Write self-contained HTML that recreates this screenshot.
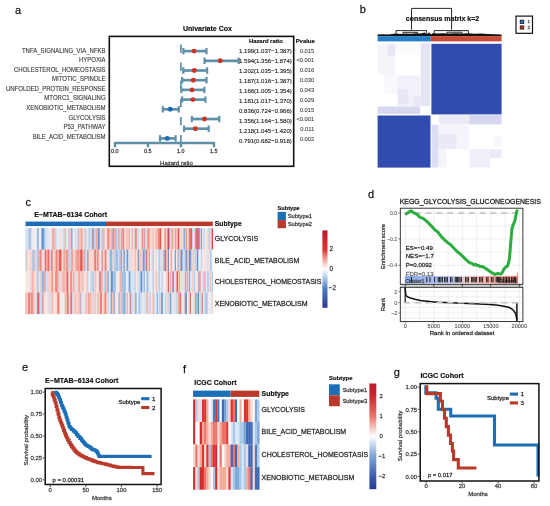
<!DOCTYPE html>
<html><head><meta charset="utf-8"><title>Figure</title>
<style>html,body{margin:0;padding:0;background:#fff}svg{display:block;font-family:"Liberation Sans", Arial, sans-serif;filter:blur(0.35px)}</style></head>
<body><svg width="550" height="506" viewBox="0 0 550 506">
<rect width="550" height="506" fill="#fff"/>
<text x="15" y="14.2" font-size="11" fill="#111" stroke="#111" stroke-width="0.28" stroke-opacity="0.75">a</text>
<text x="207.4" y="31.34" font-size="7.1" text-anchor="middle" font-weight="bold" textLength="49" lengthAdjust="spacingAndGlyphs" fill="#111" stroke="#111" stroke-width="0.22" stroke-opacity="0.75">Univariate Cox</text>
<rect x="109.3" y="36.4" width="184.4" height="129.9" fill="none" stroke="#111" stroke-width="1.6"/>
<g stroke="#5f90a8" stroke-width="1.7">
<line x1="180.9" x2="180.9" y1="135.0" y2="143.4"/>
<line x1="180.9" x2="180.9" y1="116.9" y2="125.3"/>
<line x1="180.9" x2="180.9" y1="98.8" y2="107.2"/>
<line x1="180.9" x2="180.9" y1="80.7" y2="89.1"/>
<line x1="180.9" x2="180.9" y1="62.6" y2="71.0"/>
<line x1="180.9" x2="180.9" y1="44.5" y2="52.9"/>
</g>
<g stroke="#5f90a8" stroke-width="2.4" fill="none">
<line x1="114.2" x2="215" y1="143" y2="143"/>
<line x1="115" x2="115" y1="142.2" y2="147.3"/>
<line x1="148.0" x2="148.0" y1="142.2" y2="147.3"/>
<line x1="181.0" x2="181.0" y1="142.2" y2="147.3"/>
<line x1="214.0" x2="214.0" y1="142.2" y2="147.3"/>
</g>
<text x="114.7" y="152.83" font-size="5.4" text-anchor="middle" fill="#333" stroke="#333" stroke-width="0.28" stroke-opacity="0.75">0.0</text>
<text x="147.7" y="152.83" font-size="5.4" text-anchor="middle" fill="#333" stroke="#333" stroke-width="0.28" stroke-opacity="0.75">0.5</text>
<text x="180.7" y="152.83" font-size="5.4" text-anchor="middle" fill="#333" stroke="#333" stroke-width="0.28" stroke-opacity="0.75">1.0</text>
<text x="213.7" y="152.83" font-size="5.4" text-anchor="middle" fill="#333" stroke="#333" stroke-width="0.28" stroke-opacity="0.75">1.5</text>
<text x="176.4" y="164.75" font-size="6.0" text-anchor="middle" textLength="32.7" lengthAdjust="spacingAndGlyphs" fill="#333" stroke="#333" stroke-width="0.28" stroke-opacity="0.75">Hazard ratio</text>
<text x="265.9" y="43.35" font-size="6.0" text-anchor="middle" font-weight="bold" textLength="33.9" lengthAdjust="spacingAndGlyphs" fill="#111" stroke="#111" stroke-width="0.22" stroke-opacity="0.75">Hazard ratio</text>
<text x="305.2" y="43.35" font-size="6.0" text-anchor="middle" font-weight="bold" textLength="19.1" lengthAdjust="spacingAndGlyphs" fill="#111" stroke="#111" stroke-width="0.22" stroke-opacity="0.75">Pvalue</text>
<text x="105.6" y="52.53" font-size="6.5" text-anchor="end" textLength="83.69" lengthAdjust="spacingAndGlyphs" fill="#3a3a3a" stroke="#3a3a3a" stroke-width="0.15" stroke-opacity="0.75">TNFA_SIGNALING_VIA_NFKB</text>
<g stroke="#5f90a8" fill="none"><line x1="183.4" x2="206.5" y1="51.1" y2="51.1" stroke-width="2.7"/><line x1="183.4" x2="183.4" y1="47.9" y2="54.3" stroke-width="2.2"/><line x1="206.5" x2="206.5" y1="47.9" y2="54.3" stroke-width="2.2"/></g>
<circle cx="194.1" cy="51.1" r="2.45" fill="#cb3423"/>
<text x="291.8" y="52.78" font-size="6.1" text-anchor="end" textLength="52.8" lengthAdjust="spacingAndGlyphs" fill="#222" stroke="#222" stroke-width="0.15" stroke-opacity="0.75">1.199(1.037−1.387)</text>
<text x="314.3" y="52.68" font-size="5.8" text-anchor="end" fill="#444" stroke="#444" stroke-width="0.12" stroke-opacity="0.75">0.015</text>
<text x="105.6" y="62.1" font-size="6.5" text-anchor="end" textLength="26.68" lengthAdjust="spacingAndGlyphs" fill="#3a3a3a" stroke="#3a3a3a" stroke-width="0.15" stroke-opacity="0.75">HYPOXIA</text>
<g stroke="#5f90a8" fill="none"><line x1="204.5" x2="238.7" y1="60.8" y2="60.8" stroke-width="2.7"/><line x1="204.5" x2="204.5" y1="57.6" y2="64.0" stroke-width="2.2"/><line x1="238.7" x2="238.7" y1="57.6" y2="64.0" stroke-width="2.2"/></g>
<circle cx="220.2" cy="60.8" r="2.45" fill="#cb3423"/>
<text x="291.8" y="62.78" font-size="6.1" text-anchor="end" textLength="52.8" lengthAdjust="spacingAndGlyphs" fill="#222" stroke="#222" stroke-width="0.15" stroke-opacity="0.75">1.594(1.356−1.874)</text>
<text x="314.3" y="62.49" font-size="5.8" text-anchor="end" fill="#444" stroke="#444" stroke-width="0.12" stroke-opacity="0.75">&lt;0.001</text>
<text x="105.6" y="71.67" font-size="6.5" text-anchor="end" textLength="91.58" lengthAdjust="spacingAndGlyphs" fill="#3a3a3a" stroke="#3a3a3a" stroke-width="0.15" stroke-opacity="0.75">CHOLESTEROL_HOMEOSTASIS</text>
<g stroke="#5f90a8" fill="none"><line x1="183.3" x2="207.1" y1="70.5" y2="70.5" stroke-width="2.7"/><line x1="183.3" x2="183.3" y1="67.3" y2="73.7" stroke-width="2.2"/><line x1="207.1" x2="207.1" y1="67.3" y2="73.7" stroke-width="2.2"/></g>
<circle cx="194.3" cy="70.5" r="2.45" fill="#cb3423"/>
<text x="291.8" y="72.78" font-size="6.1" text-anchor="end" textLength="52.8" lengthAdjust="spacingAndGlyphs" fill="#222" stroke="#222" stroke-width="0.15" stroke-opacity="0.75">1.202(1.035−1.395)</text>
<text x="314.3" y="72.3" font-size="5.8" text-anchor="end" fill="#444" stroke="#444" stroke-width="0.12" stroke-opacity="0.75">0.016</text>
<text x="105.6" y="81.24" font-size="6.5" text-anchor="end" textLength="53.57" lengthAdjust="spacingAndGlyphs" fill="#3a3a3a" stroke="#3a3a3a" stroke-width="0.15" stroke-opacity="0.75">MITOTIC_SPINDLE</text>
<g stroke="#5f90a8" fill="none"><line x1="182.1" x2="206.5" y1="80.2" y2="80.2" stroke-width="2.7"/><line x1="182.1" x2="182.1" y1="77.0" y2="83.4" stroke-width="2.2"/><line x1="206.5" x2="206.5" y1="77.0" y2="83.4" stroke-width="2.2"/></g>
<circle cx="193.3" cy="80.2" r="2.45" fill="#cb3423"/>
<text x="291.8" y="82.78" font-size="6.1" text-anchor="end" textLength="52.8" lengthAdjust="spacingAndGlyphs" fill="#222" stroke="#222" stroke-width="0.15" stroke-opacity="0.75">1.187(1.016−1.387)</text>
<text x="314.3" y="82.11" font-size="5.8" text-anchor="end" fill="#444" stroke="#444" stroke-width="0.12" stroke-opacity="0.75">0.030</text>
<text x="105.6" y="90.81" font-size="6.5" text-anchor="end" textLength="99.69" lengthAdjust="spacingAndGlyphs" fill="#3a3a3a" stroke="#3a3a3a" stroke-width="0.15" stroke-opacity="0.75">UNFOLDED_PROTEIN_RESPONSE</text>
<g stroke="#5f90a8" fill="none"><line x1="181.3" x2="204.4" y1="89.9" y2="89.9" stroke-width="2.7"/><line x1="181.3" x2="181.3" y1="86.7" y2="93.1" stroke-width="2.2"/><line x1="204.4" x2="204.4" y1="86.7" y2="93.1" stroke-width="2.2"/></g>
<circle cx="192.0" cy="89.9" r="2.45" fill="#cb3423"/>
<text x="291.8" y="92.78" font-size="6.1" text-anchor="end" textLength="52.8" lengthAdjust="spacingAndGlyphs" fill="#222" stroke="#222" stroke-width="0.15" stroke-opacity="0.75">1.166(1.005−1.354)</text>
<text x="314.3" y="91.92" font-size="5.8" text-anchor="end" fill="#444" stroke="#444" stroke-width="0.12" stroke-opacity="0.75">0.043</text>
<text x="105.6" y="100.38" font-size="6.5" text-anchor="end" textLength="61.24" lengthAdjust="spacingAndGlyphs" fill="#3a3a3a" stroke="#3a3a3a" stroke-width="0.15" stroke-opacity="0.75">MTORC1_SIGNALING</text>
<g stroke="#5f90a8" fill="none"><line x1="182.1" x2="205.4" y1="99.6" y2="99.6" stroke-width="2.7"/><line x1="182.1" x2="182.1" y1="96.4" y2="102.8" stroke-width="2.2"/><line x1="205.4" x2="205.4" y1="96.4" y2="102.8" stroke-width="2.2"/></g>
<circle cx="192.9" cy="99.6" r="2.45" fill="#cb3423"/>
<text x="291.8" y="102.78" font-size="6.1" text-anchor="end" textLength="52.8" lengthAdjust="spacingAndGlyphs" fill="#222" stroke="#222" stroke-width="0.15" stroke-opacity="0.75">1.181(1.017−1.370)</text>
<text x="314.3" y="101.73" font-size="5.8" text-anchor="end" fill="#444" stroke="#444" stroke-width="0.12" stroke-opacity="0.75">0.029</text>
<text x="105.6" y="109.95" font-size="6.5" text-anchor="end" textLength="79.24" lengthAdjust="spacingAndGlyphs" fill="#3a3a3a" stroke="#3a3a3a" stroke-width="0.15" stroke-opacity="0.75">XENOBIOTIC_METABOLISM</text>
<g stroke="#5f90a8" fill="none"><line x1="162.8" x2="178.8" y1="109.3" y2="109.3" stroke-width="2.7"/><line x1="162.8" x2="162.8" y1="106.1" y2="112.5" stroke-width="2.2"/><line x1="178.8" x2="178.8" y1="106.1" y2="112.5" stroke-width="2.2"/></g>
<circle cx="170.2" cy="109.3" r="2.45" fill="#1a6db8"/>
<text x="291.8" y="112.78" font-size="6.1" text-anchor="end" textLength="52.8" lengthAdjust="spacingAndGlyphs" fill="#222" stroke="#222" stroke-width="0.15" stroke-opacity="0.75">0.836(0.724−0.966)</text>
<text x="314.3" y="111.54" font-size="5.8" text-anchor="end" fill="#444" stroke="#444" stroke-width="0.12" stroke-opacity="0.75">0.015</text>
<text x="105.6" y="119.52" font-size="6.5" text-anchor="end" textLength="37.13" lengthAdjust="spacingAndGlyphs" fill="#3a3a3a" stroke="#3a3a3a" stroke-width="0.15" stroke-opacity="0.75">GLYCOLYSIS</text>
<g stroke="#5f90a8" fill="none"><line x1="191.8" x2="219.3" y1="119.0" y2="119.0" stroke-width="2.7"/><line x1="191.8" x2="191.8" y1="115.8" y2="122.2" stroke-width="2.2"/><line x1="219.3" x2="219.3" y1="115.8" y2="122.2" stroke-width="2.2"/></g>
<circle cx="204.5" cy="119.0" r="2.45" fill="#cb3423"/>
<text x="291.8" y="122.78" font-size="6.1" text-anchor="end" textLength="52.8" lengthAdjust="spacingAndGlyphs" fill="#222" stroke="#222" stroke-width="0.15" stroke-opacity="0.75">1.356(1.164−1.580)</text>
<text x="314.3" y="121.35" font-size="5.8" text-anchor="end" fill="#444" stroke="#444" stroke-width="0.12" stroke-opacity="0.75">&lt;0.001</text>
<text x="105.6" y="129.09" font-size="6.5" text-anchor="end" textLength="42.12" lengthAdjust="spacingAndGlyphs" fill="#3a3a3a" stroke="#3a3a3a" stroke-width="0.15" stroke-opacity="0.75">P53_PATHWAY</text>
<g stroke="#5f90a8" fill="none"><line x1="184.0" x2="208.7" y1="128.7" y2="128.7" stroke-width="2.7"/><line x1="184.0" x2="184.0" y1="125.5" y2="131.9" stroke-width="2.2"/><line x1="208.7" x2="208.7" y1="125.5" y2="131.9" stroke-width="2.2"/></g>
<circle cx="195.4" cy="128.7" r="2.45" fill="#cb3423"/>
<text x="291.8" y="132.78" font-size="6.1" text-anchor="end" textLength="52.8" lengthAdjust="spacingAndGlyphs" fill="#222" stroke="#222" stroke-width="0.15" stroke-opacity="0.75">1.218(1.045−1.420)</text>
<text x="314.3" y="131.16" font-size="5.8" text-anchor="end" fill="#444" stroke="#444" stroke-width="0.12" stroke-opacity="0.75">0.011</text>
<text x="105.6" y="138.66" font-size="6.5" text-anchor="end" textLength="72.91" lengthAdjust="spacingAndGlyphs" fill="#3a3a3a" stroke="#3a3a3a" stroke-width="0.15" stroke-opacity="0.75">BILE_ACID_METABOLISM</text>
<g stroke="#5f90a8" fill="none"><line x1="160.0" x2="175.6" y1="138.4" y2="138.4" stroke-width="2.7"/><line x1="160.0" x2="160.0" y1="135.2" y2="141.6" stroke-width="2.2"/><line x1="175.6" x2="175.6" y1="135.2" y2="141.6" stroke-width="2.2"/></g>
<circle cx="167.2" cy="138.4" r="2.45" fill="#1a6db8"/>
<text x="291.8" y="142.78" font-size="6.1" text-anchor="end" textLength="52.8" lengthAdjust="spacingAndGlyphs" fill="#222" stroke="#222" stroke-width="0.15" stroke-opacity="0.75">0.791(0.682−0.918)</text>
<text x="314.3" y="140.97" font-size="5.8" text-anchor="end" fill="#444" stroke="#444" stroke-width="0.12" stroke-opacity="0.75">0.002</text>
<text x="359.8" y="12.6" font-size="11" fill="#111" stroke="#111" stroke-width="0.28" stroke-opacity="0.75">b</text>
<g stroke="#111" stroke-width="0.9" fill="none">
<path d="M411.5 29.8V8.4H451.6V29.8"/>
<path d="M396 33.6V30.6H426.6V33"/><path d="M403 34V32.3H417.5V33.6"/>
<path d="M434.2 33.4V30.6H468.4V33.4"/><path d="M447 33.4V32.2H462V33.4"/>
</g>
<path d="M377.6 34.6L382 34.3L388 34.5L392 33.9L396 33.6L401 34L406 33.5L411 33.8L416 33.2L421 33.4L424.5 32.5L427 33.8L429.3 32.6L431 34.4L433 33L436 33.5L442 33.2L449 33.6L456 33.3L463 33.5L468 33.2L474 33.8L481 33.6L488 34.1L495 34.2L501.6 34.6V36.1H377.6Z" fill="#111"/>
<text x="442.5" y="21.26" font-size="6.6" text-anchor="middle" font-weight="bold" textLength="73.5" lengthAdjust="spacingAndGlyphs" fill="#111" stroke="#111" stroke-width="0.22" stroke-opacity="0.75">consensus matrix k=2</text>
<rect x="377.6" y="36.1" width="53.2" height="5.3" fill="#2680c8"/>
<rect x="430.8" y="36.1" width="70.8" height="5.3" fill="#c74c39"/>
<rect x="431.4" y="43.8" width="70.2" height="70.6" fill="#304cae"/>
<rect x="377.6" y="115.5" width="52.9" height="52.1" fill="#304cae"/>
<rect x="377.6" y="43.6" width="17.5" height="30.5" fill="#8f8fd6" opacity="0.1"/>
<rect x="387.4" y="44.5" width="8" height="11.5" fill="#8f8fd6" opacity="0.12"/>
<rect x="395" y="44" width="25" height="10" fill="#8f8fd6" opacity="0.04"/>
<rect x="420.7" y="43.3" width="9.4" height="63" fill="#8f8fd6" opacity="0.24"/>
<rect x="397.7" y="75.6" width="22.4" height="30.4" fill="#8f8fd6" opacity="0.13"/>
<rect x="397.7" y="89" width="10.5" height="15" fill="#8f8fd6" opacity="0.1"/>
<rect x="384" y="74" width="14" height="20" fill="#8f8fd6" opacity="0.05"/>
<rect x="377.6" y="106.5" width="42.6" height="7.4" fill="#8f8fd6" opacity="0.36"/>
<rect x="414" y="96" width="6.5" height="10" fill="#8f8fd6" opacity="0.1"/>
<rect x="439" y="115.2" width="62.6" height="9.2" fill="#8f8fd6" opacity="0.18"/>
<rect x="469.6" y="115.2" width="32" height="9.2" fill="#8f8fd6" opacity="0.22"/>
<rect x="431.6" y="124.5" width="6.8" height="43" fill="#8f8fd6" opacity="0.3"/>
<rect x="438.4" y="125.3" width="30.6" height="24" fill="#8f8fd6" opacity="0.1"/>
<rect x="438.4" y="134" width="18" height="14.5" fill="#8f8fd6" opacity="0.1"/>
<rect x="469.6" y="149.3" width="20.4" height="18" fill="#8f8fd6" opacity="0.14"/>
<rect x="490" y="149.3" width="11.6" height="8.7" fill="#8f8fd6" opacity="0.2"/>
<rect x="494" y="136" width="7.6" height="10" fill="#8f8fd6" opacity="0.08"/>
<rect x="438.4" y="149.3" width="8" height="18" fill="#8f8fd6" opacity="0.1"/>
<rect x="420.9" y="106.4" width="9.6" height="8.2" fill="#fff"/>
<rect x="431.6" y="115.2" width="7.4" height="9.2" fill="#fff"/>
<rect x="516" y="16.1" width="16.5" height="17.2" fill="#fff" stroke="#111" stroke-width="1.2"/>
<rect x="520.2" y="20.2" width="3.6" height="3.3" fill="#2a78b8" stroke="#112" stroke-width="0.8"/>
<rect x="520.2" y="25.9" width="3.6" height="3.2" fill="#c03a30" stroke="#211" stroke-width="0.8"/>
<text x="527.6" y="23.4" font-size="4.4" fill="#333" stroke="#333" stroke-width="0.28" stroke-opacity="0.75">1</text>
<text x="527.6" y="29.2" font-size="4.4" fill="#333" stroke="#333" stroke-width="0.28" stroke-opacity="0.75">2</text>
<text x="25.4" y="206" font-size="11" fill="#111" stroke="#111" stroke-width="0.28" stroke-opacity="0.75">c</text>
<text x="34.3" y="216.96" font-size="6.3" font-weight="bold" textLength="72.7" lengthAdjust="spacingAndGlyphs" fill="#111" stroke="#111" stroke-width="0.22" stroke-opacity="0.75">E−MTAB−6134 Cohort</text>
<rect x="25.5" y="221.6" width="80.5" height="4.5" fill="#1c6fb6"/>
<rect x="106" y="221.6" width="106.8" height="4.5" fill="#b93a2b"/>
<g shape-rendering="auto">
<rect x="25.50" y="228.20" width="1.25" height="21.48" fill="#b5d0ec"/>
<rect x="26.50" y="228.20" width="1.25" height="21.48" fill="#e4eef8"/>
<rect x="27.50" y="228.20" width="1.25" height="21.48" fill="#b8d2ed"/>
<rect x="28.50" y="228.20" width="1.25" height="21.48" fill="#b1ceeb"/>
<rect x="29.51" y="228.20" width="1.25" height="21.48" fill="#81aada"/>
<rect x="30.51" y="228.20" width="1.25" height="21.48" fill="#b9d2ed"/>
<rect x="31.51" y="228.20" width="1.25" height="21.48" fill="#fbe0db"/>
<rect x="32.51" y="228.20" width="1.25" height="21.48" fill="#e9f1f9"/>
<rect x="33.51" y="228.20" width="1.25" height="21.48" fill="#fce6e1"/>
<rect x="34.51" y="228.20" width="1.25" height="21.48" fill="#dce9f6"/>
<rect x="35.52" y="228.20" width="1.25" height="21.48" fill="#e7f0f9"/>
<rect x="36.52" y="228.20" width="1.25" height="21.48" fill="#d7e6f5"/>
<rect x="37.52" y="228.20" width="1.25" height="21.48" fill="#4a7ec5"/>
<rect x="38.52" y="228.20" width="1.25" height="21.48" fill="#fce4e0"/>
<rect x="39.52" y="228.20" width="1.25" height="21.48" fill="#e4eef8"/>
<rect x="40.52" y="228.20" width="1.25" height="21.48" fill="#e4eef8"/>
<rect x="41.53" y="228.20" width="1.25" height="21.48" fill="#497ec4"/>
<rect x="42.53" y="228.20" width="1.25" height="21.48" fill="#497cc3"/>
<rect x="43.53" y="228.20" width="1.25" height="21.48" fill="#85addc"/>
<rect x="44.53" y="228.20" width="1.25" height="21.48" fill="#a5c6e8"/>
<rect x="45.53" y="228.20" width="1.25" height="21.48" fill="#e0ecf7"/>
<rect x="46.53" y="228.20" width="1.25" height="21.48" fill="#c5dbf0"/>
<rect x="47.54" y="228.20" width="1.25" height="21.48" fill="#e4eef8"/>
<rect x="48.54" y="228.20" width="1.25" height="21.48" fill="#d2e3f4"/>
<rect x="49.54" y="228.20" width="1.25" height="21.48" fill="#fce3de"/>
<rect x="50.54" y="228.20" width="1.25" height="21.48" fill="#fbdcd7"/>
<rect x="51.54" y="228.20" width="1.25" height="21.48" fill="#d1e2f3"/>
<rect x="52.54" y="228.20" width="1.25" height="21.48" fill="#ea6c61"/>
<rect x="53.54" y="228.20" width="1.25" height="21.48" fill="#f9d0c8"/>
<rect x="54.55" y="228.20" width="1.25" height="21.48" fill="#f39d8f"/>
<rect x="55.55" y="228.20" width="1.25" height="21.48" fill="#d4e4f4"/>
<rect x="56.55" y="228.20" width="1.25" height="21.48" fill="#cbdef2"/>
<rect x="57.55" y="228.20" width="1.25" height="21.48" fill="#e9f1f9"/>
<rect x="58.55" y="228.20" width="1.25" height="21.48" fill="#e4eef8"/>
<rect x="59.55" y="228.20" width="1.25" height="21.48" fill="#f9cac1"/>
<rect x="60.56" y="228.20" width="1.25" height="21.48" fill="#fce7e4"/>
<rect x="61.56" y="228.20" width="1.25" height="21.48" fill="#e1ecf7"/>
<rect x="62.56" y="228.20" width="1.25" height="21.48" fill="#bad3ed"/>
<rect x="63.56" y="228.20" width="1.25" height="21.48" fill="#dce9f6"/>
<rect x="64.56" y="228.20" width="1.25" height="21.48" fill="#f29b8d"/>
<rect x="65.56" y="228.20" width="1.25" height="21.48" fill="#c6dbf0"/>
<rect x="66.57" y="228.20" width="1.25" height="21.48" fill="#fce8e4"/>
<rect x="67.57" y="228.20" width="1.25" height="21.48" fill="#fadad4"/>
<rect x="68.57" y="228.20" width="1.25" height="21.48" fill="#91b7e0"/>
<rect x="69.57" y="228.20" width="1.25" height="21.48" fill="#fce4e0"/>
<rect x="70.57" y="228.20" width="1.25" height="21.48" fill="#f19385"/>
<rect x="71.57" y="228.20" width="1.25" height="21.48" fill="#6997d1"/>
<rect x="72.58" y="228.20" width="1.25" height="21.48" fill="#ebf2fa"/>
<rect x="73.58" y="228.20" width="1.25" height="21.48" fill="#e4eef8"/>
<rect x="74.58" y="228.20" width="1.25" height="21.48" fill="#c5daf0"/>
<rect x="75.58" y="228.20" width="1.25" height="21.48" fill="#fad4cd"/>
<rect x="76.58" y="228.20" width="1.25" height="21.48" fill="#e4eef8"/>
<rect x="77.58" y="228.20" width="1.25" height="21.48" fill="#93b8e1"/>
<rect x="78.59" y="228.20" width="1.25" height="21.48" fill="#f7bbb0"/>
<rect x="79.59" y="228.20" width="1.25" height="21.48" fill="#f8c7be"/>
<rect x="80.59" y="228.20" width="1.25" height="21.48" fill="#f6b2a5"/>
<rect x="81.59" y="228.20" width="1.25" height="21.48" fill="#ef867a"/>
<rect x="82.59" y="228.20" width="1.25" height="21.48" fill="#fbdfd9"/>
<rect x="83.59" y="228.20" width="1.25" height="21.48" fill="#fce4e0"/>
<rect x="84.59" y="228.20" width="1.25" height="21.48" fill="#a0c2e6"/>
<rect x="85.60" y="228.20" width="1.25" height="21.48" fill="#f9cbc3"/>
<rect x="86.60" y="228.20" width="1.25" height="21.48" fill="#d5e4f4"/>
<rect x="87.60" y="228.20" width="1.25" height="21.48" fill="#e1ecf7"/>
<rect x="88.60" y="228.20" width="1.25" height="21.48" fill="#a3c4e7"/>
<rect x="89.60" y="228.20" width="1.25" height="21.48" fill="#b9d3ed"/>
<rect x="90.60" y="228.20" width="1.25" height="21.48" fill="#dbe8f6"/>
<rect x="91.61" y="228.20" width="1.25" height="21.48" fill="#f19587"/>
<rect x="92.61" y="228.20" width="1.25" height="21.48" fill="#6796d0"/>
<rect x="93.61" y="228.20" width="1.25" height="21.48" fill="#94b9e1"/>
<rect x="94.61" y="228.20" width="1.25" height="21.48" fill="#fce8e4"/>
<rect x="95.61" y="228.20" width="1.25" height="21.48" fill="#ee8679"/>
<rect x="96.61" y="228.20" width="1.25" height="21.48" fill="#f9cec6"/>
<rect x="97.62" y="228.20" width="1.25" height="21.48" fill="#729ed4"/>
<rect x="98.62" y="228.20" width="1.25" height="21.48" fill="#487cc3"/>
<rect x="99.62" y="228.20" width="1.25" height="21.48" fill="#fbdfda"/>
<rect x="100.62" y="228.20" width="1.25" height="21.48" fill="#cbdef2"/>
<rect x="101.62" y="228.20" width="1.25" height="21.48" fill="#aeccea"/>
<rect x="102.62" y="228.20" width="1.25" height="21.48" fill="#f5b0a3"/>
<rect x="103.63" y="228.20" width="1.25" height="21.48" fill="#f4a697"/>
<rect x="104.63" y="228.20" width="1.25" height="21.48" fill="#fce4e0"/>
<rect x="105.63" y="228.20" width="1.25" height="21.48" fill="#fce8e4"/>
<rect x="106.63" y="228.20" width="1.25" height="21.48" fill="#f8c3b9"/>
<rect x="107.63" y="228.20" width="1.25" height="21.48" fill="#e75c53"/>
<rect x="108.63" y="228.20" width="1.25" height="21.48" fill="#f6b5a8"/>
<rect x="109.63" y="228.20" width="1.25" height="21.48" fill="#f7bcb1"/>
<rect x="110.64" y="228.20" width="1.25" height="21.48" fill="#f7baaf"/>
<rect x="111.64" y="228.20" width="1.25" height="21.48" fill="#a2c4e7"/>
<rect x="112.64" y="228.20" width="1.25" height="21.48" fill="#ec796e"/>
<rect x="113.64" y="228.20" width="1.25" height="21.48" fill="#f2988a"/>
<rect x="114.64" y="228.20" width="1.25" height="21.48" fill="#f7bbb0"/>
<rect x="115.64" y="228.20" width="1.25" height="21.48" fill="#83abdb"/>
<rect x="116.65" y="228.20" width="1.25" height="21.48" fill="#eaf1fa"/>
<rect x="117.65" y="228.20" width="1.25" height="21.48" fill="#f4a394"/>
<rect x="118.65" y="228.20" width="1.25" height="21.48" fill="#8fb5e0"/>
<rect x="119.65" y="228.20" width="1.25" height="21.48" fill="#fce4e0"/>
<rect x="120.65" y="228.20" width="1.25" height="21.48" fill="#f19285"/>
<rect x="121.65" y="228.20" width="1.25" height="21.48" fill="#b6d1ec"/>
<rect x="122.66" y="228.20" width="1.25" height="21.48" fill="#e75a51"/>
<rect x="123.66" y="228.20" width="1.25" height="21.48" fill="#f7baae"/>
<rect x="124.66" y="228.20" width="1.25" height="21.48" fill="#fce4e0"/>
<rect x="125.66" y="228.20" width="1.25" height="21.48" fill="#f9cbc3"/>
<rect x="126.66" y="228.20" width="1.25" height="21.48" fill="#f6b2a6"/>
<rect x="127.66" y="228.20" width="1.25" height="21.48" fill="#fbdbd5"/>
<rect x="128.67" y="228.20" width="1.25" height="21.48" fill="#ef867a"/>
<rect x="129.67" y="228.20" width="1.25" height="21.48" fill="#e7f0f9"/>
<rect x="130.67" y="228.20" width="1.25" height="21.48" fill="#e4eef8"/>
<rect x="131.67" y="228.20" width="1.25" height="21.48" fill="#f09083"/>
<rect x="132.67" y="228.20" width="1.25" height="21.48" fill="#fbe2dd"/>
<rect x="133.67" y="228.20" width="1.25" height="21.48" fill="#d7e5f5"/>
<rect x="134.67" y="228.20" width="1.25" height="21.48" fill="#f2998b"/>
<rect x="135.68" y="228.20" width="1.25" height="21.48" fill="#e9685e"/>
<rect x="136.68" y="228.20" width="1.25" height="21.48" fill="#e4eef8"/>
<rect x="137.68" y="228.20" width="1.25" height="21.48" fill="#b0cdeb"/>
<rect x="138.68" y="228.20" width="1.25" height="21.48" fill="#fce4e0"/>
<rect x="139.68" y="228.20" width="1.25" height="21.48" fill="#fce4e0"/>
<rect x="140.68" y="228.20" width="1.25" height="21.48" fill="#fce4e0"/>
<rect x="141.69" y="228.20" width="1.25" height="21.48" fill="#ea6e63"/>
<rect x="142.69" y="228.20" width="1.25" height="21.48" fill="#cbdef2"/>
<rect x="143.69" y="228.20" width="1.25" height="21.48" fill="#ed7b70"/>
<rect x="144.69" y="228.20" width="1.25" height="21.48" fill="#b9d3ed"/>
<rect x="145.69" y="228.20" width="1.25" height="21.48" fill="#deeaf7"/>
<rect x="146.69" y="228.20" width="1.25" height="21.48" fill="#f6b4a7"/>
<rect x="147.70" y="228.20" width="1.25" height="21.48" fill="#ef887b"/>
<rect x="148.70" y="228.20" width="1.25" height="21.48" fill="#f3a293"/>
<rect x="149.70" y="228.20" width="1.25" height="21.48" fill="#f8cac1"/>
<rect x="150.70" y="228.20" width="1.25" height="21.48" fill="#fad9d3"/>
<rect x="151.70" y="228.20" width="1.25" height="21.48" fill="#fad8d2"/>
<rect x="152.70" y="228.20" width="1.25" height="21.48" fill="#f6b8ac"/>
<rect x="153.71" y="228.20" width="1.25" height="21.48" fill="#fce4e0"/>
<rect x="154.71" y="228.20" width="1.25" height="21.48" fill="#f9cfc7"/>
<rect x="155.71" y="228.20" width="1.25" height="21.48" fill="#f6b8ac"/>
<rect x="156.71" y="228.20" width="1.25" height="21.48" fill="#f8c9c0"/>
<rect x="157.71" y="228.20" width="1.25" height="21.48" fill="#ef897c"/>
<rect x="158.71" y="228.20" width="1.25" height="21.48" fill="#f29c8e"/>
<rect x="159.71" y="228.20" width="1.25" height="21.48" fill="#da312e"/>
<rect x="160.72" y="228.20" width="1.25" height="21.48" fill="#f5b0a3"/>
<rect x="161.72" y="228.20" width="1.25" height="21.48" fill="#fceae6"/>
<rect x="162.72" y="228.20" width="1.25" height="21.48" fill="#fce6e1"/>
<rect x="163.72" y="228.20" width="1.25" height="21.48" fill="#f9cac1"/>
<rect x="164.72" y="228.20" width="1.25" height="21.48" fill="#ec7a6e"/>
<rect x="165.72" y="228.20" width="1.25" height="21.48" fill="#fce3de"/>
<rect x="166.73" y="228.20" width="1.25" height="21.48" fill="#f5ab9e"/>
<rect x="167.73" y="228.20" width="1.25" height="21.48" fill="#dd332f"/>
<rect x="168.73" y="228.20" width="1.25" height="21.48" fill="#709dd4"/>
<rect x="169.73" y="228.20" width="1.25" height="21.48" fill="#dfebf7"/>
<rect x="170.73" y="228.20" width="1.25" height="21.48" fill="#f6b6aa"/>
<rect x="171.73" y="228.20" width="1.25" height="21.48" fill="#f5ab9c"/>
<rect x="172.74" y="228.20" width="1.25" height="21.48" fill="#f6b7ab"/>
<rect x="173.74" y="228.20" width="1.25" height="21.48" fill="#fceae6"/>
<rect x="174.74" y="228.20" width="1.25" height="21.48" fill="#f19386"/>
<rect x="175.74" y="228.20" width="1.25" height="21.48" fill="#f6b3a7"/>
<rect x="176.74" y="228.20" width="1.25" height="21.48" fill="#fce4e0"/>
<rect x="177.74" y="228.20" width="1.25" height="21.48" fill="#d42c2d"/>
<rect x="178.75" y="228.20" width="1.25" height="21.48" fill="#f5aea0"/>
<rect x="179.75" y="228.20" width="1.25" height="21.48" fill="#fce4e0"/>
<rect x="180.75" y="228.20" width="1.25" height="21.48" fill="#f9d1c9"/>
<rect x="181.75" y="228.20" width="1.25" height="21.48" fill="#fbdad4"/>
<rect x="182.75" y="228.20" width="1.25" height="21.48" fill="#f9cec6"/>
<rect x="183.75" y="228.20" width="1.25" height="21.48" fill="#6493cf"/>
<rect x="184.76" y="228.20" width="1.25" height="21.48" fill="#fce4e0"/>
<rect x="185.76" y="228.20" width="1.25" height="21.48" fill="#eb7267"/>
<rect x="186.76" y="228.20" width="1.25" height="21.48" fill="#dce9f6"/>
<rect x="187.76" y="228.20" width="1.25" height="21.48" fill="#f9cec6"/>
<rect x="188.76" y="228.20" width="1.25" height="21.48" fill="#ec776c"/>
<rect x="189.76" y="228.20" width="1.25" height="21.48" fill="#ed8074"/>
<rect x="190.76" y="228.20" width="1.25" height="21.48" fill="#e3443d"/>
<rect x="191.77" y="228.20" width="1.25" height="21.48" fill="#b3cfec"/>
<rect x="192.77" y="228.20" width="1.25" height="21.48" fill="#fce4e0"/>
<rect x="193.77" y="228.20" width="1.25" height="21.48" fill="#fce3de"/>
<rect x="194.77" y="228.20" width="1.25" height="21.48" fill="#f19689"/>
<rect x="195.77" y="228.20" width="1.25" height="21.48" fill="#e96a60"/>
<rect x="196.77" y="228.20" width="1.25" height="21.48" fill="#6796d0"/>
<rect x="197.78" y="228.20" width="1.25" height="21.48" fill="#e96a60"/>
<rect x="198.78" y="228.20" width="1.25" height="21.48" fill="#6392ce"/>
<rect x="199.78" y="228.20" width="1.25" height="21.48" fill="#fce4e0"/>
<rect x="200.78" y="228.20" width="1.25" height="21.48" fill="#5f8fcd"/>
<rect x="201.78" y="228.20" width="1.25" height="21.48" fill="#dfebf7"/>
<rect x="202.78" y="228.20" width="1.25" height="21.48" fill="#f9d1c9"/>
<rect x="203.79" y="228.20" width="1.25" height="21.48" fill="#c7dbf1"/>
<rect x="204.79" y="228.20" width="1.25" height="21.48" fill="#e1ecf7"/>
<rect x="205.79" y="228.20" width="1.25" height="21.48" fill="#fce4e0"/>
<rect x="206.79" y="228.20" width="1.25" height="21.48" fill="#dde9f6"/>
<rect x="207.79" y="228.20" width="1.25" height="21.48" fill="#cbdef2"/>
<rect x="208.79" y="228.20" width="1.25" height="21.48" fill="#f6b7ab"/>
<rect x="209.80" y="228.20" width="1.25" height="21.48" fill="#fbdcd6"/>
<rect x="210.80" y="228.20" width="1.25" height="21.48" fill="#bcd4ee"/>
<rect x="211.80" y="228.20" width="1.25" height="21.48" fill="#e34840"/>
<rect x="25.50" y="249.67" width="1.25" height="21.48" fill="#b5d0ec"/>
<rect x="26.50" y="249.67" width="1.25" height="21.48" fill="#f5ac9e"/>
<rect x="27.50" y="249.67" width="1.25" height="21.48" fill="#e4eef8"/>
<rect x="28.50" y="249.67" width="1.25" height="21.48" fill="#fce7e3"/>
<rect x="29.51" y="249.67" width="1.25" height="21.48" fill="#f7bcb0"/>
<rect x="30.51" y="249.67" width="1.25" height="21.48" fill="#fbe1db"/>
<rect x="31.51" y="249.67" width="1.25" height="21.48" fill="#f7c1b6"/>
<rect x="32.51" y="249.67" width="1.25" height="21.48" fill="#98bbe3"/>
<rect x="33.51" y="249.67" width="1.25" height="21.48" fill="#99bde3"/>
<rect x="34.51" y="249.67" width="1.25" height="21.48" fill="#f8c2b8"/>
<rect x="35.52" y="249.67" width="1.25" height="21.48" fill="#c3d9f0"/>
<rect x="36.52" y="249.67" width="1.25" height="21.48" fill="#bed6ee"/>
<rect x="37.52" y="249.67" width="1.25" height="21.48" fill="#9cbfe5"/>
<rect x="38.52" y="249.67" width="1.25" height="21.48" fill="#ef8c7f"/>
<rect x="39.52" y="249.67" width="1.25" height="21.48" fill="#f6b8ad"/>
<rect x="40.52" y="249.67" width="1.25" height="21.48" fill="#e3463e"/>
<rect x="41.53" y="249.67" width="1.25" height="21.48" fill="#e4eef8"/>
<rect x="42.53" y="249.67" width="1.25" height="21.48" fill="#f8c9c0"/>
<rect x="43.53" y="249.67" width="1.25" height="21.48" fill="#deeaf7"/>
<rect x="44.53" y="249.67" width="1.25" height="21.48" fill="#ef897c"/>
<rect x="45.53" y="249.67" width="1.25" height="21.48" fill="#e13a34"/>
<rect x="46.53" y="249.67" width="1.25" height="21.48" fill="#e4eef8"/>
<rect x="47.54" y="249.67" width="1.25" height="21.48" fill="#e13d37"/>
<rect x="48.54" y="249.67" width="1.25" height="21.48" fill="#eb7469"/>
<rect x="49.54" y="249.67" width="1.25" height="21.48" fill="#fad7d0"/>
<rect x="50.54" y="249.67" width="1.25" height="21.48" fill="#9ec1e5"/>
<rect x="51.54" y="249.67" width="1.25" height="21.48" fill="#e44c44"/>
<rect x="52.54" y="249.67" width="1.25" height="21.48" fill="#f9d0c9"/>
<rect x="53.54" y="249.67" width="1.25" height="21.48" fill="#fce4e0"/>
<rect x="54.55" y="249.67" width="1.25" height="21.48" fill="#f5aa9c"/>
<rect x="55.55" y="249.67" width="1.25" height="21.48" fill="#f5aa9b"/>
<rect x="56.55" y="249.67" width="1.25" height="21.48" fill="#e3433c"/>
<rect x="57.55" y="249.67" width="1.25" height="21.48" fill="#e7f0f9"/>
<rect x="58.55" y="249.67" width="1.25" height="21.48" fill="#e9665c"/>
<rect x="59.55" y="249.67" width="1.25" height="21.48" fill="#e3443d"/>
<rect x="60.56" y="249.67" width="1.25" height="21.48" fill="#e34840"/>
<rect x="61.56" y="249.67" width="1.25" height="21.48" fill="#fad7d0"/>
<rect x="62.56" y="249.67" width="1.25" height="21.48" fill="#e4eef8"/>
<rect x="63.56" y="249.67" width="1.25" height="21.48" fill="#eb7166"/>
<rect x="64.56" y="249.67" width="1.25" height="21.48" fill="#f7c0b6"/>
<rect x="65.56" y="249.67" width="1.25" height="21.48" fill="#f7bfb5"/>
<rect x="66.57" y="249.67" width="1.25" height="21.48" fill="#e44a43"/>
<rect x="67.57" y="249.67" width="1.25" height="21.48" fill="#fbddd8"/>
<rect x="68.57" y="249.67" width="1.25" height="21.48" fill="#85addc"/>
<rect x="69.57" y="249.67" width="1.25" height="21.48" fill="#fce7e3"/>
<rect x="70.57" y="249.67" width="1.25" height="21.48" fill="#a7c7e9"/>
<rect x="71.57" y="249.67" width="1.25" height="21.48" fill="#ee8478"/>
<rect x="72.58" y="249.67" width="1.25" height="21.48" fill="#f5b1a4"/>
<rect x="73.58" y="249.67" width="1.25" height="21.48" fill="#fce4e0"/>
<rect x="74.58" y="249.67" width="1.25" height="21.48" fill="#f8cac1"/>
<rect x="75.58" y="249.67" width="1.25" height="21.48" fill="#ee8376"/>
<rect x="76.58" y="249.67" width="1.25" height="21.48" fill="#f8c3b9"/>
<rect x="77.58" y="249.67" width="1.25" height="21.48" fill="#e5544b"/>
<rect x="78.59" y="249.67" width="1.25" height="21.48" fill="#f9cec5"/>
<rect x="79.59" y="249.67" width="1.25" height="21.48" fill="#ea6f64"/>
<rect x="80.59" y="249.67" width="1.25" height="21.48" fill="#e3443d"/>
<rect x="81.59" y="249.67" width="1.25" height="21.48" fill="#e13932"/>
<rect x="82.59" y="249.67" width="1.25" height="21.48" fill="#fce4e0"/>
<rect x="83.59" y="249.67" width="1.25" height="21.48" fill="#ed7e72"/>
<rect x="84.59" y="249.67" width="1.25" height="21.48" fill="#a5c6e8"/>
<rect x="85.60" y="249.67" width="1.25" height="21.48" fill="#e2edf8"/>
<rect x="86.60" y="249.67" width="1.25" height="21.48" fill="#9fc1e6"/>
<rect x="87.60" y="249.67" width="1.25" height="21.48" fill="#ea6c62"/>
<rect x="88.60" y="249.67" width="1.25" height="21.48" fill="#d7e6f5"/>
<rect x="89.60" y="249.67" width="1.25" height="21.48" fill="#f9cac1"/>
<rect x="90.60" y="249.67" width="1.25" height="21.48" fill="#fad8d1"/>
<rect x="91.61" y="249.67" width="1.25" height="21.48" fill="#f9cbc3"/>
<rect x="92.61" y="249.67" width="1.25" height="21.48" fill="#fce4e0"/>
<rect x="93.61" y="249.67" width="1.25" height="21.48" fill="#f6b7ab"/>
<rect x="94.61" y="249.67" width="1.25" height="21.48" fill="#de332f"/>
<rect x="95.61" y="249.67" width="1.25" height="21.48" fill="#f8c6bc"/>
<rect x="96.61" y="249.67" width="1.25" height="21.48" fill="#f39f91"/>
<rect x="97.62" y="249.67" width="1.25" height="21.48" fill="#eb7368"/>
<rect x="98.62" y="249.67" width="1.25" height="21.48" fill="#fad8d2"/>
<rect x="99.62" y="249.67" width="1.25" height="21.48" fill="#d5e4f4"/>
<rect x="100.62" y="249.67" width="1.25" height="21.48" fill="#fce4e0"/>
<rect x="101.62" y="249.67" width="1.25" height="21.48" fill="#ea6c61"/>
<rect x="102.62" y="249.67" width="1.25" height="21.48" fill="#b7d1ed"/>
<rect x="103.63" y="249.67" width="1.25" height="21.48" fill="#fce4e0"/>
<rect x="104.63" y="249.67" width="1.25" height="21.48" fill="#eb7267"/>
<rect x="105.63" y="249.67" width="1.25" height="21.48" fill="#ef867a"/>
<rect x="106.63" y="249.67" width="1.25" height="21.48" fill="#e4eef8"/>
<rect x="107.63" y="249.67" width="1.25" height="21.48" fill="#fad3cc"/>
<rect x="108.63" y="249.67" width="1.25" height="21.48" fill="#e4eef8"/>
<rect x="109.63" y="249.67" width="1.25" height="21.48" fill="#93b8e1"/>
<rect x="110.64" y="249.67" width="1.25" height="21.48" fill="#75a0d5"/>
<rect x="111.64" y="249.67" width="1.25" height="21.48" fill="#bcd5ee"/>
<rect x="112.64" y="249.67" width="1.25" height="21.48" fill="#f9cac2"/>
<rect x="113.64" y="249.67" width="1.25" height="21.48" fill="#c2d8ef"/>
<rect x="114.64" y="249.67" width="1.25" height="21.48" fill="#a8c8e9"/>
<rect x="115.64" y="249.67" width="1.25" height="21.48" fill="#b2ceeb"/>
<rect x="116.65" y="249.67" width="1.25" height="21.48" fill="#77a2d6"/>
<rect x="117.65" y="249.67" width="1.25" height="21.48" fill="#e4eef8"/>
<rect x="118.65" y="249.67" width="1.25" height="21.48" fill="#93b8e1"/>
<rect x="119.65" y="249.67" width="1.25" height="21.48" fill="#fce4e0"/>
<rect x="120.65" y="249.67" width="1.25" height="21.48" fill="#4778c0"/>
<rect x="121.65" y="249.67" width="1.25" height="21.48" fill="#fce4e0"/>
<rect x="122.66" y="249.67" width="1.25" height="21.48" fill="#bcd5ee"/>
<rect x="123.66" y="249.67" width="1.25" height="21.48" fill="#588aca"/>
<rect x="124.66" y="249.67" width="1.25" height="21.48" fill="#fadad3"/>
<rect x="125.66" y="249.67" width="1.25" height="21.48" fill="#d8e6f5"/>
<rect x="126.66" y="249.67" width="1.25" height="21.48" fill="#487cc3"/>
<rect x="127.66" y="249.67" width="1.25" height="21.48" fill="#aac9e9"/>
<rect x="128.67" y="249.67" width="1.25" height="21.48" fill="#fce4e0"/>
<rect x="129.67" y="249.67" width="1.25" height="21.48" fill="#caddf1"/>
<rect x="130.67" y="249.67" width="1.25" height="21.48" fill="#fad5ce"/>
<rect x="131.67" y="249.67" width="1.25" height="21.48" fill="#fad8d1"/>
<rect x="132.67" y="249.67" width="1.25" height="21.48" fill="#fbded9"/>
<rect x="133.67" y="249.67" width="1.25" height="21.48" fill="#fce4e0"/>
<rect x="134.67" y="249.67" width="1.25" height="21.48" fill="#f5ab9d"/>
<rect x="135.68" y="249.67" width="1.25" height="21.48" fill="#fbdfd9"/>
<rect x="136.68" y="249.67" width="1.25" height="21.48" fill="#fce4e0"/>
<rect x="137.68" y="249.67" width="1.25" height="21.48" fill="#4d81c6"/>
<rect x="138.68" y="249.67" width="1.25" height="21.48" fill="#f9ccc4"/>
<rect x="139.68" y="249.67" width="1.25" height="21.48" fill="#f5ad9f"/>
<rect x="140.68" y="249.67" width="1.25" height="21.48" fill="#d6e5f5"/>
<rect x="141.69" y="249.67" width="1.25" height="21.48" fill="#c9ddf1"/>
<rect x="142.69" y="249.67" width="1.25" height="21.48" fill="#eb7368"/>
<rect x="143.69" y="249.67" width="1.25" height="21.48" fill="#6695d0"/>
<rect x="144.69" y="249.67" width="1.25" height="21.48" fill="#fce4e0"/>
<rect x="145.69" y="249.67" width="1.25" height="21.48" fill="#e3453d"/>
<rect x="146.69" y="249.67" width="1.25" height="21.48" fill="#a6c7e8"/>
<rect x="147.70" y="249.67" width="1.25" height="21.48" fill="#fbdcd6"/>
<rect x="148.70" y="249.67" width="1.25" height="21.48" fill="#ec786c"/>
<rect x="149.70" y="249.67" width="1.25" height="21.48" fill="#e4eef8"/>
<rect x="150.70" y="249.67" width="1.25" height="21.48" fill="#fce6e2"/>
<rect x="151.70" y="249.67" width="1.25" height="21.48" fill="#f9ccc3"/>
<rect x="152.70" y="249.67" width="1.25" height="21.48" fill="#a8c8e9"/>
<rect x="153.71" y="249.67" width="1.25" height="21.48" fill="#e6eff9"/>
<rect x="154.71" y="249.67" width="1.25" height="21.48" fill="#fce4e0"/>
<rect x="155.71" y="249.67" width="1.25" height="21.48" fill="#f9d2ca"/>
<rect x="156.71" y="249.67" width="1.25" height="21.48" fill="#eaf2fa"/>
<rect x="157.71" y="249.67" width="1.25" height="21.48" fill="#deeaf7"/>
<rect x="158.71" y="249.67" width="1.25" height="21.48" fill="#9fc1e6"/>
<rect x="159.71" y="249.67" width="1.25" height="21.48" fill="#d2e2f3"/>
<rect x="160.72" y="249.67" width="1.25" height="21.48" fill="#f9cdc4"/>
<rect x="161.72" y="249.67" width="1.25" height="21.48" fill="#e4eef8"/>
<rect x="162.72" y="249.67" width="1.25" height="21.48" fill="#accaea"/>
<rect x="163.72" y="249.67" width="1.25" height="21.48" fill="#adcbea"/>
<rect x="164.72" y="249.67" width="1.25" height="21.48" fill="#df342f"/>
<rect x="165.72" y="249.67" width="1.25" height="21.48" fill="#f7baae"/>
<rect x="166.73" y="249.67" width="1.25" height="21.48" fill="#fbe0db"/>
<rect x="167.73" y="249.67" width="1.25" height="21.48" fill="#4370bb"/>
<rect x="168.73" y="249.67" width="1.25" height="21.48" fill="#fbe1dd"/>
<rect x="169.73" y="249.67" width="1.25" height="21.48" fill="#fdece9"/>
<rect x="170.73" y="249.67" width="1.25" height="21.48" fill="#ef8b7e"/>
<rect x="171.73" y="249.67" width="1.25" height="21.48" fill="#fce4e0"/>
<rect x="172.74" y="249.67" width="1.25" height="21.48" fill="#e8f0f9"/>
<rect x="173.74" y="249.67" width="1.25" height="21.48" fill="#fce9e5"/>
<rect x="174.74" y="249.67" width="1.25" height="21.48" fill="#5789ca"/>
<rect x="175.74" y="249.67" width="1.25" height="21.48" fill="#fce4e0"/>
<rect x="176.74" y="249.67" width="1.25" height="21.48" fill="#d9e7f5"/>
<rect x="177.74" y="249.67" width="1.25" height="21.48" fill="#8ab1de"/>
<rect x="178.75" y="249.67" width="1.25" height="21.48" fill="#fad9d2"/>
<rect x="179.75" y="249.67" width="1.25" height="21.48" fill="#f6b4a7"/>
<rect x="180.75" y="249.67" width="1.25" height="21.48" fill="#5487c9"/>
<rect x="181.75" y="249.67" width="1.25" height="21.48" fill="#8db3df"/>
<rect x="182.75" y="249.67" width="1.25" height="21.48" fill="#d6e5f5"/>
<rect x="183.75" y="249.67" width="1.25" height="21.48" fill="#cee0f2"/>
<rect x="184.76" y="249.67" width="1.25" height="21.48" fill="#a1c3e7"/>
<rect x="185.76" y="249.67" width="1.25" height="21.48" fill="#75a1d6"/>
<rect x="186.76" y="249.67" width="1.25" height="21.48" fill="#f29a8b"/>
<rect x="187.76" y="249.67" width="1.25" height="21.48" fill="#fce4e0"/>
<rect x="188.76" y="249.67" width="1.25" height="21.48" fill="#6493cf"/>
<rect x="189.76" y="249.67" width="1.25" height="21.48" fill="#588aca"/>
<rect x="190.76" y="249.67" width="1.25" height="21.48" fill="#f7bcb0"/>
<rect x="191.77" y="249.67" width="1.25" height="21.48" fill="#fce4e0"/>
<rect x="192.77" y="249.67" width="1.25" height="21.48" fill="#f6b3a6"/>
<rect x="193.77" y="249.67" width="1.25" height="21.48" fill="#e4eef8"/>
<rect x="194.77" y="249.67" width="1.25" height="21.48" fill="#aac9e9"/>
<rect x="195.77" y="249.67" width="1.25" height="21.48" fill="#fce4e0"/>
<rect x="196.77" y="249.67" width="1.25" height="21.48" fill="#497ec4"/>
<rect x="197.78" y="249.67" width="1.25" height="21.48" fill="#b4cfec"/>
<rect x="198.78" y="249.67" width="1.25" height="21.48" fill="#e8f1f9"/>
<rect x="199.78" y="249.67" width="1.25" height="21.48" fill="#fce9e5"/>
<rect x="200.78" y="249.67" width="1.25" height="21.48" fill="#b5d0ec"/>
<rect x="201.78" y="249.67" width="1.25" height="21.48" fill="#e3eef8"/>
<rect x="202.78" y="249.67" width="1.25" height="21.48" fill="#fce4e0"/>
<rect x="203.79" y="249.67" width="1.25" height="21.48" fill="#fce4e0"/>
<rect x="204.79" y="249.67" width="1.25" height="21.48" fill="#fbe0db"/>
<rect x="205.79" y="249.67" width="1.25" height="21.48" fill="#e4eef8"/>
<rect x="206.79" y="249.67" width="1.25" height="21.48" fill="#d4e4f4"/>
<rect x="207.79" y="249.67" width="1.25" height="21.48" fill="#fad5ce"/>
<rect x="208.79" y="249.67" width="1.25" height="21.48" fill="#e4eef8"/>
<rect x="209.80" y="249.67" width="1.25" height="21.48" fill="#aeccea"/>
<rect x="210.80" y="249.67" width="1.25" height="21.48" fill="#bdd5ee"/>
<rect x="211.80" y="249.67" width="1.25" height="21.48" fill="#edf4fa"/>
<rect x="25.50" y="271.15" width="1.25" height="21.48" fill="#fce4e0"/>
<rect x="26.50" y="271.15" width="1.25" height="21.48" fill="#fbdcd7"/>
<rect x="27.50" y="271.15" width="1.25" height="21.48" fill="#fce9e5"/>
<rect x="28.50" y="271.15" width="1.25" height="21.48" fill="#fbdbd5"/>
<rect x="29.51" y="271.15" width="1.25" height="21.48" fill="#fce4e0"/>
<rect x="30.51" y="271.15" width="1.25" height="21.48" fill="#b5d0ec"/>
<rect x="31.51" y="271.15" width="1.25" height="21.48" fill="#f8c8bf"/>
<rect x="32.51" y="271.15" width="1.25" height="21.48" fill="#f19587"/>
<rect x="33.51" y="271.15" width="1.25" height="21.48" fill="#f8c7be"/>
<rect x="34.51" y="271.15" width="1.25" height="21.48" fill="#fce4e0"/>
<rect x="35.52" y="271.15" width="1.25" height="21.48" fill="#f8c6bd"/>
<rect x="36.52" y="271.15" width="1.25" height="21.48" fill="#ccdef2"/>
<rect x="37.52" y="271.15" width="1.25" height="21.48" fill="#84acdb"/>
<rect x="38.52" y="271.15" width="1.25" height="21.48" fill="#fce4df"/>
<rect x="39.52" y="271.15" width="1.25" height="21.48" fill="#cee0f3"/>
<rect x="40.52" y="271.15" width="1.25" height="21.48" fill="#f5b0a3"/>
<rect x="41.53" y="271.15" width="1.25" height="21.48" fill="#c3d9f0"/>
<rect x="42.53" y="271.15" width="1.25" height="21.48" fill="#4b80c6"/>
<rect x="43.53" y="271.15" width="1.25" height="21.48" fill="#c6dbf0"/>
<rect x="44.53" y="271.15" width="1.25" height="21.48" fill="#e86359"/>
<rect x="45.53" y="271.15" width="1.25" height="21.48" fill="#e4eef8"/>
<rect x="46.53" y="271.15" width="1.25" height="21.48" fill="#adcbea"/>
<rect x="47.54" y="271.15" width="1.25" height="21.48" fill="#dbe8f6"/>
<rect x="48.54" y="271.15" width="1.25" height="21.48" fill="#f7c1b6"/>
<rect x="49.54" y="271.15" width="1.25" height="21.48" fill="#f8c2b8"/>
<rect x="50.54" y="271.15" width="1.25" height="21.48" fill="#fbdbd5"/>
<rect x="51.54" y="271.15" width="1.25" height="21.48" fill="#ea6c61"/>
<rect x="52.54" y="271.15" width="1.25" height="21.48" fill="#f6b2a6"/>
<rect x="53.54" y="271.15" width="1.25" height="21.48" fill="#fceae7"/>
<rect x="54.55" y="271.15" width="1.25" height="21.48" fill="#f7bbaf"/>
<rect x="55.55" y="271.15" width="1.25" height="21.48" fill="#e75b52"/>
<rect x="56.55" y="271.15" width="1.25" height="21.48" fill="#f29d8e"/>
<rect x="57.55" y="271.15" width="1.25" height="21.48" fill="#f2988a"/>
<rect x="58.55" y="271.15" width="1.25" height="21.48" fill="#c3d9f0"/>
<rect x="59.55" y="271.15" width="1.25" height="21.48" fill="#fce4e0"/>
<rect x="60.56" y="271.15" width="1.25" height="21.48" fill="#f5b1a4"/>
<rect x="61.56" y="271.15" width="1.25" height="21.48" fill="#e4eef8"/>
<rect x="62.56" y="271.15" width="1.25" height="21.48" fill="#f19386"/>
<rect x="63.56" y="271.15" width="1.25" height="21.48" fill="#f7bbb0"/>
<rect x="64.56" y="271.15" width="1.25" height="21.48" fill="#f4a394"/>
<rect x="65.56" y="271.15" width="1.25" height="21.48" fill="#fce4e0"/>
<rect x="66.57" y="271.15" width="1.25" height="21.48" fill="#d82f2e"/>
<rect x="67.57" y="271.15" width="1.25" height="21.48" fill="#ee8377"/>
<rect x="68.57" y="271.15" width="1.25" height="21.48" fill="#fce4e0"/>
<rect x="69.57" y="271.15" width="1.25" height="21.48" fill="#fbe2dd"/>
<rect x="70.57" y="271.15" width="1.25" height="21.48" fill="#d72f2e"/>
<rect x="71.57" y="271.15" width="1.25" height="21.48" fill="#e4eef8"/>
<rect x="72.58" y="271.15" width="1.25" height="21.48" fill="#f4a697"/>
<rect x="73.58" y="271.15" width="1.25" height="21.48" fill="#f29c8d"/>
<rect x="74.58" y="271.15" width="1.25" height="21.48" fill="#fce8e4"/>
<rect x="75.58" y="271.15" width="1.25" height="21.48" fill="#bcd5ee"/>
<rect x="76.58" y="271.15" width="1.25" height="21.48" fill="#fadad4"/>
<rect x="77.58" y="271.15" width="1.25" height="21.48" fill="#f9cdc5"/>
<rect x="78.59" y="271.15" width="1.25" height="21.48" fill="#f08d80"/>
<rect x="79.59" y="271.15" width="1.25" height="21.48" fill="#f5ad9f"/>
<rect x="80.59" y="271.15" width="1.25" height="21.48" fill="#fce7e3"/>
<rect x="81.59" y="271.15" width="1.25" height="21.48" fill="#f4a799"/>
<rect x="82.59" y="271.15" width="1.25" height="21.48" fill="#f7bfb5"/>
<rect x="83.59" y="271.15" width="1.25" height="21.48" fill="#fad9d2"/>
<rect x="84.59" y="271.15" width="1.25" height="21.48" fill="#fce4e0"/>
<rect x="85.60" y="271.15" width="1.25" height="21.48" fill="#fce4e0"/>
<rect x="86.60" y="271.15" width="1.25" height="21.48" fill="#f6b4a8"/>
<rect x="87.60" y="271.15" width="1.25" height="21.48" fill="#c5daf0"/>
<rect x="88.60" y="271.15" width="1.25" height="21.48" fill="#e5eff8"/>
<rect x="89.60" y="271.15" width="1.25" height="21.48" fill="#fce8e4"/>
<rect x="90.60" y="271.15" width="1.25" height="21.48" fill="#a6c6e8"/>
<rect x="91.61" y="271.15" width="1.25" height="21.48" fill="#e4eef8"/>
<rect x="92.61" y="271.15" width="1.25" height="21.48" fill="#7ba6d8"/>
<rect x="93.61" y="271.15" width="1.25" height="21.48" fill="#e1ecf7"/>
<rect x="94.61" y="271.15" width="1.25" height="21.48" fill="#f7bdb2"/>
<rect x="95.61" y="271.15" width="1.25" height="21.48" fill="#f7bdb2"/>
<rect x="96.61" y="271.15" width="1.25" height="21.48" fill="#fdedea"/>
<rect x="97.62" y="271.15" width="1.25" height="21.48" fill="#fce4e0"/>
<rect x="98.62" y="271.15" width="1.25" height="21.48" fill="#a9c9e9"/>
<rect x="99.62" y="271.15" width="1.25" height="21.48" fill="#e44b43"/>
<rect x="100.62" y="271.15" width="1.25" height="21.48" fill="#f7c1b7"/>
<rect x="101.62" y="271.15" width="1.25" height="21.48" fill="#f09184"/>
<rect x="102.62" y="271.15" width="1.25" height="21.48" fill="#d2e3f4"/>
<rect x="103.63" y="271.15" width="1.25" height="21.48" fill="#fce4e0"/>
<rect x="104.63" y="271.15" width="1.25" height="21.48" fill="#8ab1de"/>
<rect x="105.63" y="271.15" width="1.25" height="21.48" fill="#f5ad9f"/>
<rect x="106.63" y="271.15" width="1.25" height="21.48" fill="#fad2cb"/>
<rect x="107.63" y="271.15" width="1.25" height="21.48" fill="#5285c8"/>
<rect x="108.63" y="271.15" width="1.25" height="21.48" fill="#e0ebf7"/>
<rect x="109.63" y="271.15" width="1.25" height="21.48" fill="#fceae6"/>
<rect x="110.64" y="271.15" width="1.25" height="21.48" fill="#5c8dcc"/>
<rect x="111.64" y="271.15" width="1.25" height="21.48" fill="#588aca"/>
<rect x="112.64" y="271.15" width="1.25" height="21.48" fill="#92b7e1"/>
<rect x="113.64" y="271.15" width="1.25" height="21.48" fill="#b4cfec"/>
<rect x="114.64" y="271.15" width="1.25" height="21.48" fill="#78a3d7"/>
<rect x="115.64" y="271.15" width="1.25" height="21.48" fill="#e6eff9"/>
<rect x="116.65" y="271.15" width="1.25" height="21.48" fill="#e4eef8"/>
<rect x="117.65" y="271.15" width="1.25" height="21.48" fill="#fce9e6"/>
<rect x="118.65" y="271.15" width="1.25" height="21.48" fill="#fce4e0"/>
<rect x="119.65" y="271.15" width="1.25" height="21.48" fill="#f4a798"/>
<rect x="120.65" y="271.15" width="1.25" height="21.48" fill="#f7c1b7"/>
<rect x="121.65" y="271.15" width="1.25" height="21.48" fill="#7fa9d9"/>
<rect x="122.66" y="271.15" width="1.25" height="21.48" fill="#bdd5ee"/>
<rect x="123.66" y="271.15" width="1.25" height="21.48" fill="#93b8e1"/>
<rect x="124.66" y="271.15" width="1.25" height="21.48" fill="#91b7e0"/>
<rect x="125.66" y="271.15" width="1.25" height="21.48" fill="#deeaf7"/>
<rect x="126.66" y="271.15" width="1.25" height="21.48" fill="#e4eef8"/>
<rect x="127.66" y="271.15" width="1.25" height="21.48" fill="#fce4e0"/>
<rect x="128.67" y="271.15" width="1.25" height="21.48" fill="#6a98d1"/>
<rect x="129.67" y="271.15" width="1.25" height="21.48" fill="#85addc"/>
<rect x="130.67" y="271.15" width="1.25" height="21.48" fill="#e2edf8"/>
<rect x="131.67" y="271.15" width="1.25" height="21.48" fill="#d5e4f4"/>
<rect x="132.67" y="271.15" width="1.25" height="21.48" fill="#ccdff2"/>
<rect x="133.67" y="271.15" width="1.25" height="21.48" fill="#dfebf7"/>
<rect x="134.67" y="271.15" width="1.25" height="21.48" fill="#aac9e9"/>
<rect x="135.68" y="271.15" width="1.25" height="21.48" fill="#fce4e0"/>
<rect x="136.68" y="271.15" width="1.25" height="21.48" fill="#fce4e0"/>
<rect x="137.68" y="271.15" width="1.25" height="21.48" fill="#ddeaf6"/>
<rect x="138.68" y="271.15" width="1.25" height="21.48" fill="#b1cdeb"/>
<rect x="139.68" y="271.15" width="1.25" height="21.48" fill="#d7e5f5"/>
<rect x="140.68" y="271.15" width="1.25" height="21.48" fill="#4370bb"/>
<rect x="141.69" y="271.15" width="1.25" height="21.48" fill="#99bce3"/>
<rect x="142.69" y="271.15" width="1.25" height="21.48" fill="#e7f0f9"/>
<rect x="143.69" y="271.15" width="1.25" height="21.48" fill="#709dd4"/>
<rect x="144.69" y="271.15" width="1.25" height="21.48" fill="#e4eef8"/>
<rect x="145.69" y="271.15" width="1.25" height="21.48" fill="#e4eef8"/>
<rect x="146.69" y="271.15" width="1.25" height="21.48" fill="#7aa5d8"/>
<rect x="147.70" y="271.15" width="1.25" height="21.48" fill="#d1e2f3"/>
<rect x="148.70" y="271.15" width="1.25" height="21.48" fill="#ccdff2"/>
<rect x="149.70" y="271.15" width="1.25" height="21.48" fill="#fce4e0"/>
<rect x="150.70" y="271.15" width="1.25" height="21.48" fill="#fdebe8"/>
<rect x="151.70" y="271.15" width="1.25" height="21.48" fill="#e1ecf7"/>
<rect x="152.70" y="271.15" width="1.25" height="21.48" fill="#a3c4e7"/>
<rect x="153.71" y="271.15" width="1.25" height="21.48" fill="#fce4e0"/>
<rect x="154.71" y="271.15" width="1.25" height="21.48" fill="#fce4e0"/>
<rect x="155.71" y="271.15" width="1.25" height="21.48" fill="#f6b9ae"/>
<rect x="156.71" y="271.15" width="1.25" height="21.48" fill="#fbdbd5"/>
<rect x="157.71" y="271.15" width="1.25" height="21.48" fill="#d5e5f4"/>
<rect x="158.71" y="271.15" width="1.25" height="21.48" fill="#a5c6e8"/>
<rect x="159.71" y="271.15" width="1.25" height="21.48" fill="#e4eef8"/>
<rect x="160.72" y="271.15" width="1.25" height="21.48" fill="#d4e4f4"/>
<rect x="161.72" y="271.15" width="1.25" height="21.48" fill="#b7d2ed"/>
<rect x="162.72" y="271.15" width="1.25" height="21.48" fill="#fce4e0"/>
<rect x="163.72" y="271.15" width="1.25" height="21.48" fill="#e7f0f9"/>
<rect x="164.72" y="271.15" width="1.25" height="21.48" fill="#fce9e6"/>
<rect x="165.72" y="271.15" width="1.25" height="21.48" fill="#f8c9c1"/>
<rect x="166.73" y="271.15" width="1.25" height="21.48" fill="#edf4fa"/>
<rect x="167.73" y="271.15" width="1.25" height="21.48" fill="#dd332f"/>
<rect x="168.73" y="271.15" width="1.25" height="21.48" fill="#e4eef8"/>
<rect x="169.73" y="271.15" width="1.25" height="21.48" fill="#f29b8d"/>
<rect x="170.73" y="271.15" width="1.25" height="21.48" fill="#fce8e4"/>
<rect x="171.73" y="271.15" width="1.25" height="21.48" fill="#f29a8c"/>
<rect x="172.74" y="271.15" width="1.25" height="21.48" fill="#5688ca"/>
<rect x="173.74" y="271.15" width="1.25" height="21.48" fill="#d3e3f4"/>
<rect x="174.74" y="271.15" width="1.25" height="21.48" fill="#fbdfd9"/>
<rect x="175.74" y="271.15" width="1.25" height="21.48" fill="#f8c3b9"/>
<rect x="176.74" y="271.15" width="1.25" height="21.48" fill="#dd332f"/>
<rect x="177.74" y="271.15" width="1.25" height="21.48" fill="#fad9d2"/>
<rect x="178.75" y="271.15" width="1.25" height="21.48" fill="#ef8a7d"/>
<rect x="179.75" y="271.15" width="1.25" height="21.48" fill="#fce4df"/>
<rect x="180.75" y="271.15" width="1.25" height="21.48" fill="#fad6cf"/>
<rect x="181.75" y="271.15" width="1.25" height="21.48" fill="#fce4e0"/>
<rect x="182.75" y="271.15" width="1.25" height="21.48" fill="#d4e3f4"/>
<rect x="183.75" y="271.15" width="1.25" height="21.48" fill="#fce4e0"/>
<rect x="184.76" y="271.15" width="1.25" height="21.48" fill="#8db3df"/>
<rect x="185.76" y="271.15" width="1.25" height="21.48" fill="#f8c4ba"/>
<rect x="186.76" y="271.15" width="1.25" height="21.48" fill="#91b7e0"/>
<rect x="187.76" y="271.15" width="1.25" height="21.48" fill="#e4eef8"/>
<rect x="188.76" y="271.15" width="1.25" height="21.48" fill="#eb7267"/>
<rect x="189.76" y="271.15" width="1.25" height="21.48" fill="#cee0f3"/>
<rect x="190.76" y="271.15" width="1.25" height="21.48" fill="#e1ecf7"/>
<rect x="191.77" y="271.15" width="1.25" height="21.48" fill="#f8c6bc"/>
<rect x="192.77" y="271.15" width="1.25" height="21.48" fill="#e2ecf7"/>
<rect x="193.77" y="271.15" width="1.25" height="21.48" fill="#a2c3e7"/>
<rect x="194.77" y="271.15" width="1.25" height="21.48" fill="#e4eef8"/>
<rect x="195.77" y="271.15" width="1.25" height="21.48" fill="#fce4e0"/>
<rect x="196.77" y="271.15" width="1.25" height="21.48" fill="#fce8e4"/>
<rect x="197.78" y="271.15" width="1.25" height="21.48" fill="#a4c6e8"/>
<rect x="198.78" y="271.15" width="1.25" height="21.48" fill="#f19588"/>
<rect x="199.78" y="271.15" width="1.25" height="21.48" fill="#f39e8f"/>
<rect x="200.78" y="271.15" width="1.25" height="21.48" fill="#e1ecf7"/>
<rect x="201.78" y="271.15" width="1.25" height="21.48" fill="#e4eef8"/>
<rect x="202.78" y="271.15" width="1.25" height="21.48" fill="#bfd6ef"/>
<rect x="203.79" y="271.15" width="1.25" height="21.48" fill="#f6b2a6"/>
<rect x="204.79" y="271.15" width="1.25" height="21.48" fill="#aac9e9"/>
<rect x="205.79" y="271.15" width="1.25" height="21.48" fill="#fdebe8"/>
<rect x="206.79" y="271.15" width="1.25" height="21.48" fill="#bbd4ee"/>
<rect x="207.79" y="271.15" width="1.25" height="21.48" fill="#aac9e9"/>
<rect x="208.79" y="271.15" width="1.25" height="21.48" fill="#fce8e4"/>
<rect x="209.80" y="271.15" width="1.25" height="21.48" fill="#f6b8ad"/>
<rect x="210.80" y="271.15" width="1.25" height="21.48" fill="#dfebf7"/>
<rect x="211.80" y="271.15" width="1.25" height="21.48" fill="#accaea"/>
<rect x="25.50" y="292.62" width="1.25" height="21.48" fill="#f09082"/>
<rect x="26.50" y="292.62" width="1.25" height="21.48" fill="#fad6cf"/>
<rect x="27.50" y="292.62" width="1.25" height="21.48" fill="#f7baaf"/>
<rect x="28.50" y="292.62" width="1.25" height="21.48" fill="#e44c44"/>
<rect x="29.51" y="292.62" width="1.25" height="21.48" fill="#eb7166"/>
<rect x="30.51" y="292.62" width="1.25" height="21.48" fill="#fce4e0"/>
<rect x="31.51" y="292.62" width="1.25" height="21.48" fill="#d72f2e"/>
<rect x="32.51" y="292.62" width="1.25" height="21.48" fill="#f9d2ca"/>
<rect x="33.51" y="292.62" width="1.25" height="21.48" fill="#f19285"/>
<rect x="34.51" y="292.62" width="1.25" height="21.48" fill="#e4eef8"/>
<rect x="35.52" y="292.62" width="1.25" height="21.48" fill="#fad5ce"/>
<rect x="36.52" y="292.62" width="1.25" height="21.48" fill="#a6c7e8"/>
<rect x="37.52" y="292.62" width="1.25" height="21.48" fill="#e0352f"/>
<rect x="38.52" y="292.62" width="1.25" height="21.48" fill="#e75b52"/>
<rect x="39.52" y="292.62" width="1.25" height="21.48" fill="#cfe1f3"/>
<rect x="40.52" y="292.62" width="1.25" height="21.48" fill="#b9d3ed"/>
<rect x="41.53" y="292.62" width="1.25" height="21.48" fill="#b0cdeb"/>
<rect x="42.53" y="292.62" width="1.25" height="21.48" fill="#ea6d63"/>
<rect x="43.53" y="292.62" width="1.25" height="21.48" fill="#fce4e0"/>
<rect x="44.53" y="292.62" width="1.25" height="21.48" fill="#fad7d0"/>
<rect x="45.53" y="292.62" width="1.25" height="21.48" fill="#fceae6"/>
<rect x="46.53" y="292.62" width="1.25" height="21.48" fill="#fbdbd5"/>
<rect x="47.54" y="292.62" width="1.25" height="21.48" fill="#d9e7f5"/>
<rect x="48.54" y="292.62" width="1.25" height="21.48" fill="#f9d0c8"/>
<rect x="49.54" y="292.62" width="1.25" height="21.48" fill="#bed6ee"/>
<rect x="50.54" y="292.62" width="1.25" height="21.48" fill="#fad7d1"/>
<rect x="51.54" y="292.62" width="1.25" height="21.48" fill="#f7baaf"/>
<rect x="52.54" y="292.62" width="1.25" height="21.48" fill="#f5aea1"/>
<rect x="53.54" y="292.62" width="1.25" height="21.48" fill="#fce4df"/>
<rect x="54.55" y="292.62" width="1.25" height="21.48" fill="#e7f0f9"/>
<rect x="55.55" y="292.62" width="1.25" height="21.48" fill="#f8c6bc"/>
<rect x="56.55" y="292.62" width="1.25" height="21.48" fill="#fce4e0"/>
<rect x="57.55" y="292.62" width="1.25" height="21.48" fill="#e34840"/>
<rect x="58.55" y="292.62" width="1.25" height="21.48" fill="#f19486"/>
<rect x="59.55" y="292.62" width="1.25" height="21.48" fill="#fbdbd5"/>
<rect x="60.56" y="292.62" width="1.25" height="21.48" fill="#fce4e0"/>
<rect x="61.56" y="292.62" width="1.25" height="21.48" fill="#e4eef8"/>
<rect x="62.56" y="292.62" width="1.25" height="21.48" fill="#e4eef8"/>
<rect x="63.56" y="292.62" width="1.25" height="21.48" fill="#fce4e0"/>
<rect x="64.56" y="292.62" width="1.25" height="21.48" fill="#f7bbb0"/>
<rect x="65.56" y="292.62" width="1.25" height="21.48" fill="#f5ab9c"/>
<rect x="66.57" y="292.62" width="1.25" height="21.48" fill="#f4a698"/>
<rect x="67.57" y="292.62" width="1.25" height="21.48" fill="#da312e"/>
<rect x="68.57" y="292.62" width="1.25" height="21.48" fill="#e4eef8"/>
<rect x="69.57" y="292.62" width="1.25" height="21.48" fill="#f9d1c9"/>
<rect x="70.57" y="292.62" width="1.25" height="21.48" fill="#d42c2d"/>
<rect x="71.57" y="292.62" width="1.25" height="21.48" fill="#9dc0e5"/>
<rect x="72.58" y="292.62" width="1.25" height="21.48" fill="#fce4e0"/>
<rect x="73.58" y="292.62" width="1.25" height="21.48" fill="#f8c5bb"/>
<rect x="74.58" y="292.62" width="1.25" height="21.48" fill="#f8c6bd"/>
<rect x="75.58" y="292.62" width="1.25" height="21.48" fill="#f6b3a6"/>
<rect x="76.58" y="292.62" width="1.25" height="21.48" fill="#fce4e0"/>
<rect x="77.58" y="292.62" width="1.25" height="21.48" fill="#f6b6aa"/>
<rect x="78.59" y="292.62" width="1.25" height="21.48" fill="#f9cec6"/>
<rect x="79.59" y="292.62" width="1.25" height="21.48" fill="#f19486"/>
<rect x="80.59" y="292.62" width="1.25" height="21.48" fill="#9bbee4"/>
<rect x="81.59" y="292.62" width="1.25" height="21.48" fill="#e8f1f9"/>
<rect x="82.59" y="292.62" width="1.25" height="21.48" fill="#fad2cb"/>
<rect x="83.59" y="292.62" width="1.25" height="21.48" fill="#ddeaf6"/>
<rect x="84.59" y="292.62" width="1.25" height="21.48" fill="#dce9f6"/>
<rect x="85.60" y="292.62" width="1.25" height="21.48" fill="#f3a193"/>
<rect x="86.60" y="292.62" width="1.25" height="21.48" fill="#e4eef8"/>
<rect x="87.60" y="292.62" width="1.25" height="21.48" fill="#f3a192"/>
<rect x="88.60" y="292.62" width="1.25" height="21.48" fill="#f19688"/>
<rect x="89.60" y="292.62" width="1.25" height="21.48" fill="#f7bbaf"/>
<rect x="90.60" y="292.62" width="1.25" height="21.48" fill="#f5ab9d"/>
<rect x="91.61" y="292.62" width="1.25" height="21.48" fill="#fadad4"/>
<rect x="92.61" y="292.62" width="1.25" height="21.48" fill="#c0d7ef"/>
<rect x="93.61" y="292.62" width="1.25" height="21.48" fill="#fad4cd"/>
<rect x="94.61" y="292.62" width="1.25" height="21.48" fill="#f5afa2"/>
<rect x="95.61" y="292.62" width="1.25" height="21.48" fill="#fce4e0"/>
<rect x="96.61" y="292.62" width="1.25" height="21.48" fill="#fadad3"/>
<rect x="97.62" y="292.62" width="1.25" height="21.48" fill="#f19688"/>
<rect x="98.62" y="292.62" width="1.25" height="21.48" fill="#e9f1f9"/>
<rect x="99.62" y="292.62" width="1.25" height="21.48" fill="#f3a091"/>
<rect x="100.62" y="292.62" width="1.25" height="21.48" fill="#de342f"/>
<rect x="101.62" y="292.62" width="1.25" height="21.48" fill="#fce4e0"/>
<rect x="102.62" y="292.62" width="1.25" height="21.48" fill="#f8c7bd"/>
<rect x="103.63" y="292.62" width="1.25" height="21.48" fill="#fbded8"/>
<rect x="104.63" y="292.62" width="1.25" height="21.48" fill="#e44a43"/>
<rect x="105.63" y="292.62" width="1.25" height="21.48" fill="#f7baae"/>
<rect x="106.63" y="292.62" width="1.25" height="21.48" fill="#fad5ce"/>
<rect x="107.63" y="292.62" width="1.25" height="21.48" fill="#afcceb"/>
<rect x="108.63" y="292.62" width="1.25" height="21.48" fill="#e3edf8"/>
<rect x="109.63" y="292.62" width="1.25" height="21.48" fill="#e3edf8"/>
<rect x="110.64" y="292.62" width="1.25" height="21.48" fill="#5b8dcc"/>
<rect x="111.64" y="292.62" width="1.25" height="21.48" fill="#f5ac9e"/>
<rect x="112.64" y="292.62" width="1.25" height="21.48" fill="#fad5ce"/>
<rect x="113.64" y="292.62" width="1.25" height="21.48" fill="#5d8ecc"/>
<rect x="114.64" y="292.62" width="1.25" height="21.48" fill="#fbe1dc"/>
<rect x="115.64" y="292.62" width="1.25" height="21.48" fill="#dae8f6"/>
<rect x="116.65" y="292.62" width="1.25" height="21.48" fill="#fce4e0"/>
<rect x="117.65" y="292.62" width="1.25" height="21.48" fill="#fce4e0"/>
<rect x="118.65" y="292.62" width="1.25" height="21.48" fill="#719dd4"/>
<rect x="119.65" y="292.62" width="1.25" height="21.48" fill="#d4e4f4"/>
<rect x="120.65" y="292.62" width="1.25" height="21.48" fill="#f4a899"/>
<rect x="121.65" y="292.62" width="1.25" height="21.48" fill="#b8d2ed"/>
<rect x="122.66" y="292.62" width="1.25" height="21.48" fill="#96bae2"/>
<rect x="123.66" y="292.62" width="1.25" height="21.48" fill="#7ca6d8"/>
<rect x="124.66" y="292.62" width="1.25" height="21.48" fill="#86aedc"/>
<rect x="125.66" y="292.62" width="1.25" height="21.48" fill="#e4eef8"/>
<rect x="126.66" y="292.62" width="1.25" height="21.48" fill="#f19588"/>
<rect x="127.66" y="292.62" width="1.25" height="21.48" fill="#fce4e0"/>
<rect x="128.67" y="292.62" width="1.25" height="21.48" fill="#e4eef8"/>
<rect x="129.67" y="292.62" width="1.25" height="21.48" fill="#e86258"/>
<rect x="130.67" y="292.62" width="1.25" height="21.48" fill="#bcd5ee"/>
<rect x="131.67" y="292.62" width="1.25" height="21.48" fill="#b0cdeb"/>
<rect x="132.67" y="292.62" width="1.25" height="21.48" fill="#fce4e0"/>
<rect x="133.67" y="292.62" width="1.25" height="21.48" fill="#fce4e0"/>
<rect x="134.67" y="292.62" width="1.25" height="21.48" fill="#96bae2"/>
<rect x="135.68" y="292.62" width="1.25" height="21.48" fill="#8ab1de"/>
<rect x="136.68" y="292.62" width="1.25" height="21.48" fill="#e4eef8"/>
<rect x="137.68" y="292.62" width="1.25" height="21.48" fill="#e4eef8"/>
<rect x="138.68" y="292.62" width="1.25" height="21.48" fill="#80a9da"/>
<rect x="139.68" y="292.62" width="1.25" height="21.48" fill="#d5e4f4"/>
<rect x="140.68" y="292.62" width="1.25" height="21.48" fill="#bad4ed"/>
<rect x="141.69" y="292.62" width="1.25" height="21.48" fill="#fce4e0"/>
<rect x="142.69" y="292.62" width="1.25" height="21.48" fill="#dbe8f6"/>
<rect x="143.69" y="292.62" width="1.25" height="21.48" fill="#ddeaf6"/>
<rect x="144.69" y="292.62" width="1.25" height="21.48" fill="#c9ddf1"/>
<rect x="145.69" y="292.62" width="1.25" height="21.48" fill="#f8c9c0"/>
<rect x="146.69" y="292.62" width="1.25" height="21.48" fill="#f5b0a2"/>
<rect x="147.70" y="292.62" width="1.25" height="21.48" fill="#c8dcf1"/>
<rect x="148.70" y="292.62" width="1.25" height="21.48" fill="#fad9d3"/>
<rect x="149.70" y="292.62" width="1.25" height="21.48" fill="#aac9e9"/>
<rect x="150.70" y="292.62" width="1.25" height="21.48" fill="#eaf1fa"/>
<rect x="151.70" y="292.62" width="1.25" height="21.48" fill="#fbe1dc"/>
<rect x="152.70" y="292.62" width="1.25" height="21.48" fill="#f4a697"/>
<rect x="153.71" y="292.62" width="1.25" height="21.48" fill="#c7dbf1"/>
<rect x="154.71" y="292.62" width="1.25" height="21.48" fill="#deeaf7"/>
<rect x="155.71" y="292.62" width="1.25" height="21.48" fill="#e4eef8"/>
<rect x="156.71" y="292.62" width="1.25" height="21.48" fill="#719dd4"/>
<rect x="157.71" y="292.62" width="1.25" height="21.48" fill="#e5eff8"/>
<rect x="158.71" y="292.62" width="1.25" height="21.48" fill="#b0cdeb"/>
<rect x="159.71" y="292.62" width="1.25" height="21.48" fill="#fce4e0"/>
<rect x="160.72" y="292.62" width="1.25" height="21.48" fill="#8db4df"/>
<rect x="161.72" y="292.62" width="1.25" height="21.48" fill="#4c80c6"/>
<rect x="162.72" y="292.62" width="1.25" height="21.48" fill="#e7f0f9"/>
<rect x="163.72" y="292.62" width="1.25" height="21.48" fill="#e4eef8"/>
<rect x="164.72" y="292.62" width="1.25" height="21.48" fill="#bad3ed"/>
<rect x="165.72" y="292.62" width="1.25" height="21.48" fill="#fad6cf"/>
<rect x="166.73" y="292.62" width="1.25" height="21.48" fill="#cfe1f3"/>
<rect x="167.73" y="292.62" width="1.25" height="21.48" fill="#b6d1ec"/>
<rect x="168.73" y="292.62" width="1.25" height="21.48" fill="#fce4e0"/>
<rect x="169.73" y="292.62" width="1.25" height="21.48" fill="#6b99d2"/>
<rect x="170.73" y="292.62" width="1.25" height="21.48" fill="#b0cdeb"/>
<rect x="171.73" y="292.62" width="1.25" height="21.48" fill="#e2edf8"/>
<rect x="172.74" y="292.62" width="1.25" height="21.48" fill="#fad9d3"/>
<rect x="173.74" y="292.62" width="1.25" height="21.48" fill="#d8e6f5"/>
<rect x="174.74" y="292.62" width="1.25" height="21.48" fill="#e4eef8"/>
<rect x="175.74" y="292.62" width="1.25" height="21.48" fill="#b2ceeb"/>
<rect x="176.74" y="292.62" width="1.25" height="21.48" fill="#e4eef8"/>
<rect x="177.74" y="292.62" width="1.25" height="21.48" fill="#f2988a"/>
<rect x="178.75" y="292.62" width="1.25" height="21.48" fill="#afcdeb"/>
<rect x="179.75" y="292.62" width="1.25" height="21.48" fill="#e6554d"/>
<rect x="180.75" y="292.62" width="1.25" height="21.48" fill="#b3cfec"/>
<rect x="181.75" y="292.62" width="1.25" height="21.48" fill="#e5eff8"/>
<rect x="182.75" y="292.62" width="1.25" height="21.48" fill="#e4eef8"/>
<rect x="183.75" y="292.62" width="1.25" height="21.48" fill="#f9ccc3"/>
<rect x="184.76" y="292.62" width="1.25" height="21.48" fill="#85addc"/>
<rect x="185.76" y="292.62" width="1.25" height="21.48" fill="#497cc3"/>
<rect x="186.76" y="292.62" width="1.25" height="21.48" fill="#fdece8"/>
<rect x="187.76" y="292.62" width="1.25" height="21.48" fill="#fbddd8"/>
<rect x="188.76" y="292.62" width="1.25" height="21.48" fill="#fceae7"/>
<rect x="189.76" y="292.62" width="1.25" height="21.48" fill="#e13c36"/>
<rect x="190.76" y="292.62" width="1.25" height="21.48" fill="#e4eef8"/>
<rect x="191.77" y="292.62" width="1.25" height="21.48" fill="#e4eef8"/>
<rect x="192.77" y="292.62" width="1.25" height="21.48" fill="#fad3cc"/>
<rect x="193.77" y="292.62" width="1.25" height="21.48" fill="#fce4e0"/>
<rect x="194.77" y="292.62" width="1.25" height="21.48" fill="#f2988a"/>
<rect x="195.77" y="292.62" width="1.25" height="21.48" fill="#85addc"/>
<rect x="196.77" y="292.62" width="1.25" height="21.48" fill="#c7dcf1"/>
<rect x="197.78" y="292.62" width="1.25" height="21.48" fill="#4370bb"/>
<rect x="198.78" y="292.62" width="1.25" height="21.48" fill="#fbdcd6"/>
<rect x="199.78" y="292.62" width="1.25" height="21.48" fill="#c8dcf1"/>
<rect x="200.78" y="292.62" width="1.25" height="21.48" fill="#fad3cc"/>
<rect x="201.78" y="292.62" width="1.25" height="21.48" fill="#e96a5f"/>
<rect x="202.78" y="292.62" width="1.25" height="21.48" fill="#e4eef8"/>
<rect x="203.79" y="292.62" width="1.25" height="21.48" fill="#d1e2f3"/>
<rect x="204.79" y="292.62" width="1.25" height="21.48" fill="#bed6ee"/>
<rect x="205.79" y="292.62" width="1.25" height="21.48" fill="#a4c5e8"/>
<rect x="206.79" y="292.62" width="1.25" height="21.48" fill="#b4cfec"/>
<rect x="207.79" y="292.62" width="1.25" height="21.48" fill="#fce9e5"/>
<rect x="208.79" y="292.62" width="1.25" height="21.48" fill="#e7f0f9"/>
<rect x="209.80" y="292.62" width="1.25" height="21.48" fill="#e9f1f9"/>
<rect x="210.80" y="292.62" width="1.25" height="21.48" fill="#d7e6f5"/>
<rect x="211.80" y="292.62" width="1.25" height="21.48" fill="#fad4cd"/>
</g>
<text x="214.8" y="226.19" font-size="6.4" font-weight="bold" textLength="26.9" lengthAdjust="spacingAndGlyphs" fill="#111" stroke="#111" stroke-width="0.22" stroke-opacity="0.75">Subtype</text>
<text x="214.8" y="241.37" font-size="6.9" textLength="43.3" lengthAdjust="spacingAndGlyphs" fill="#222" stroke="#222" stroke-width="0.28" stroke-opacity="0.75">GLYCOLYSIS</text>
<text x="214.8" y="262.67" font-size="6.9" textLength="84.5" lengthAdjust="spacingAndGlyphs" fill="#222" stroke="#222" stroke-width="0.28" stroke-opacity="0.75">BILE_ACID_METABOLISM</text>
<text x="214.8" y="284.27" font-size="6.9" textLength="106.6" lengthAdjust="spacingAndGlyphs" fill="#222" stroke="#222" stroke-width="0.28" stroke-opacity="0.75">CHOLESTEROL_HOMEOSTASIS</text>
<text x="214.8" y="305.57" font-size="6.9" textLength="92.7" lengthAdjust="spacingAndGlyphs" fill="#222" stroke="#222" stroke-width="0.28" stroke-opacity="0.75">XENOBIOTIC_METABOLISM</text>
<text x="277.6" y="209.6" font-size="5.6" font-weight="bold" fill="#111" stroke="#111" stroke-width="0.22" stroke-opacity="0.75">Subtype</text>
<rect x="277.6" y="211.9" width="8.3" height="8.2" fill="#1c6fb6"/><rect x="277.6" y="220.1" width="8.3" height="8.1" fill="#b93a2b"/>
<text x="287.7" y="217.8" font-size="5.6" textLength="24.4" lengthAdjust="spacingAndGlyphs" fill="#333" stroke="#333" stroke-width="0.28" stroke-opacity="0.75">Subtype1</text>
<text x="287.7" y="225.8" font-size="5.6" textLength="24.4" lengthAdjust="spacingAndGlyphs" fill="#333" stroke="#333" stroke-width="0.28" stroke-opacity="0.75">Subtype2</text>
<defs><linearGradient id="gc" x1="0" y1="0" x2="0" y2="1">
<stop offset="0.013" stop-color="#ba1a2a"/>
<stop offset="0.250" stop-color="#e0352f"/>
<stop offset="0.375" stop-color="#f4a596"/>
<stop offset="0.500" stop-color="#ffffff"/>
<stop offset="0.625" stop-color="#a5c6e8"/>
<stop offset="0.750" stop-color="#4a7fc5"/>
<stop offset="0.988" stop-color="#2a3a95"/>
</linearGradient><linearGradient id="gf" x1="0" y1="0" x2="0" y2="1">
<stop offset="0.000" stop-color="#bc1b2a"/>
<stop offset="0.118" stop-color="#ce282d"/>
<stop offset="0.308" stop-color="#eb7368"/>
<stop offset="0.498" stop-color="#ffffff"/>
<stop offset="0.688" stop-color="#7ca6d8"/>
<stop offset="0.878" stop-color="#3b5eae"/>
<stop offset="1.000" stop-color="#2b3d97"/>
</linearGradient>
<linearGradient id="gd" x1="0" y1="0" x2="1" y2="0"><stop offset="0" stop-color="#86a8ea"/><stop offset="0.42" stop-color="#c2caf0"/><stop offset="0.56" stop-color="#f2c6c6"/><stop offset="1" stop-color="#f0806f"/></linearGradient>
</defs>
<rect x="322.4" y="230.4" width="5.1" height="77.4" fill="url(#gc)"/>
<text x="329.5" y="251.46" font-size="6.3" fill="#333" stroke="#333" stroke-width="0.28" stroke-opacity="0.75">2</text>
<text x="329.5" y="270.76" font-size="6.3" fill="#333" stroke="#333" stroke-width="0.28" stroke-opacity="0.75">0</text>
<text x="328.8" y="290.06" font-size="6.3" fill="#333" stroke="#333" stroke-width="0.28" stroke-opacity="0.75">−2</text>
<text x="368" y="198" font-size="11" fill="#111" stroke="#111" stroke-width="0.28" stroke-opacity="0.75">d</text>
<text x="399.7" y="203.87" font-size="6.9" textLength="141.2" lengthAdjust="spacingAndGlyphs" fill="#111" stroke="#111" stroke-width="0.28" stroke-opacity="0.75">KEGG_GLYCOLYSIS_GLUCONEOGENESIS</text>
<g stroke="#e4e4e4" stroke-width="0.6">
<line x1="405.3" x2="405.3" y1="208.2" y2="284.3"/><line x1="405.3" x2="405.3" y1="287.3" y2="321.6"/>
<line x1="419.6" x2="419.6" y1="208.2" y2="284.3"/><line x1="419.6" x2="419.6" y1="287.3" y2="321.6"/>
<line x1="433.8" x2="433.8" y1="208.2" y2="284.3"/><line x1="433.8" x2="433.8" y1="287.3" y2="321.6"/>
<line x1="448.1" x2="448.1" y1="208.2" y2="284.3"/><line x1="448.1" x2="448.1" y1="287.3" y2="321.6"/>
<line x1="462.3" x2="462.3" y1="208.2" y2="284.3"/><line x1="462.3" x2="462.3" y1="287.3" y2="321.6"/>
<line x1="476.6" x2="476.6" y1="208.2" y2="284.3"/><line x1="476.6" x2="476.6" y1="287.3" y2="321.6"/>
<line x1="490.8" x2="490.8" y1="208.2" y2="284.3"/><line x1="490.8" x2="490.8" y1="287.3" y2="321.6"/>
<line x1="505.1" x2="505.1" y1="208.2" y2="284.3"/><line x1="505.1" x2="505.1" y1="287.3" y2="321.6"/>
<line x1="519.3" x2="519.3" y1="208.2" y2="284.3"/><line x1="519.3" x2="519.3" y1="287.3" y2="321.6"/>
<line x1="400.3" x2="522.9" y1="213.1" y2="213.1"/>
<line x1="400.3" x2="522.9" y1="226" y2="226"/>
<line x1="400.3" x2="522.9" y1="238.9" y2="238.9"/>
<line x1="400.3" x2="522.9" y1="252.1" y2="252.1"/>
<line x1="400.3" x2="522.9" y1="265.3" y2="265.3"/>
<line x1="400.3" x2="522.9" y1="278.4" y2="278.4"/>
<line x1="400.3" x2="522.9" y1="291.4" y2="291.4"/>
<line x1="400.3" x2="522.9" y1="296.8" y2="296.8"/>
<line x1="400.3" x2="522.9" y1="302.2" y2="302.2"/>
<line x1="400.3" x2="522.9" y1="307.6" y2="307.6"/>
<line x1="400.3" x2="522.9" y1="312.9" y2="312.9"/>
<line x1="400.3" x2="522.9" y1="318.3" y2="318.3"/>
</g>
<line x1="404" x2="519.5" y1="213.1" y2="213.1" stroke="#c8c8c8" stroke-width="1.9" stroke-dasharray="6.2 4.6"/>
<rect x="404.8" y="275.9" width="113" height="7.6" fill="url(#gd)"/>
<text x="405.7" y="249.98" font-size="6.1" fill="#222" stroke="#222" stroke-width="0.28" stroke-opacity="0.75">ES=−0.49</text>
<text x="405.7" y="258.48" font-size="6.1" fill="#222" stroke="#222" stroke-width="0.28" stroke-opacity="0.75">NES=−1.7</text>
<text x="405.7" y="267.08" font-size="6.1" fill="#222" stroke="#222" stroke-width="0.28" stroke-opacity="0.75">P=0.0092</text>
<text x="405.7" y="275.58" font-size="6.1" fill="#666" stroke="#666" stroke-width="0.28" stroke-opacity="0.75">FDR=0.13</text>
<text x="405.2" y="283.16" font-size="5.2" fill="#444" stroke="#444" stroke-width="0.28" stroke-opacity="0.75">Cluster1</text>
<text x="517.4" y="283.16" font-size="5.2" text-anchor="end" fill="#444" stroke="#444" stroke-width="0.28" stroke-opacity="0.75">Cluster2</text>
<g stroke="#151515" stroke-width="0.95">
<line x1="411.5" x2="411.5" y1="277" y2="282.3"/>
<line x1="426.8" x2="426.8" y1="277" y2="282.3"/>
<line x1="430" x2="430" y1="277" y2="282.3"/>
<line x1="434.6" x2="434.6" y1="277" y2="282.3"/>
<line x1="438.2" x2="438.2" y1="277" y2="282.3"/>
<line x1="439.6" x2="439.6" y1="277" y2="282.3"/>
<line x1="441" x2="441" y1="277" y2="282.3"/>
<line x1="442.4" x2="442.4" y1="277" y2="282.3"/>
<line x1="444.6" x2="444.6" y1="277" y2="282.3"/>
<line x1="446" x2="446" y1="277" y2="282.3"/>
<line x1="447.4" x2="447.4" y1="277" y2="282.3"/>
<line x1="450.6" x2="450.6" y1="277" y2="282.3"/>
<line x1="452" x2="452" y1="277" y2="282.3"/>
<line x1="455.2" x2="455.2" y1="277" y2="282.3"/>
<line x1="456.4" x2="456.4" y1="277" y2="282.3"/>
<line x1="457.6" x2="457.6" y1="277" y2="282.3"/>
<line x1="458.8" x2="458.8" y1="277" y2="282.3"/>
<line x1="460" x2="460" y1="277" y2="282.3"/>
<line x1="461.4" x2="461.4" y1="277" y2="282.3"/>
<line x1="465.6" x2="465.6" y1="277" y2="282.3"/>
<line x1="467" x2="467" y1="277" y2="282.3"/>
<line x1="468.4" x2="468.4" y1="277" y2="282.3"/>
<line x1="471.6" x2="471.6" y1="277" y2="282.3"/>
<line x1="472.8" x2="472.8" y1="277" y2="282.3"/>
<line x1="474" x2="474" y1="277" y2="282.3"/>
<line x1="475.2" x2="475.2" y1="277" y2="282.3"/>
<line x1="476.4" x2="476.4" y1="277" y2="282.3"/>
<line x1="479.6" x2="479.6" y1="277" y2="282.3"/>
<line x1="481" x2="481" y1="277" y2="282.3"/>
<line x1="482.4" x2="482.4" y1="277" y2="282.3"/>
<line x1="486.7" x2="486.7" y1="277" y2="282.3"/>
<line x1="488" x2="488" y1="277" y2="282.3"/>
<line x1="491.4" x2="491.4" y1="277" y2="282.3"/>
<line x1="493" x2="493" y1="277" y2="282.3"/>
<line x1="496.2" x2="496.2" y1="277" y2="282.3"/>
<line x1="497.4" x2="497.4" y1="277" y2="282.3"/>
<line x1="498.6" x2="498.6" y1="277" y2="282.3"/>
<line x1="499.8" x2="499.8" y1="277" y2="282.3"/>
<line x1="501" x2="501" y1="277" y2="282.3"/>
<line x1="503.4" x2="503.4" y1="277" y2="282.3"/>
<line x1="505" x2="505" y1="277" y2="282.3"/>
<line x1="506.4" x2="506.4" y1="277" y2="282.3"/>
<line x1="508" x2="508" y1="277" y2="282.3"/>
<line x1="509.4" x2="509.4" y1="277" y2="282.3"/>
<line x1="511.6" x2="511.6" y1="277" y2="282.3"/>
<line x1="513" x2="513" y1="277" y2="282.3"/>
<line x1="514.4" x2="514.4" y1="277" y2="282.3"/>
<line x1="515.6" x2="515.6" y1="277" y2="282.3"/>
</g>
<line x1="517.4" x2="517.4" y1="272.6" y2="283" stroke="#e0685a" stroke-width="0.8"/>
<polyline fill="none" stroke="#2aad3e" stroke-width="3" stroke-linejoin="round" stroke-linecap="round" points="406.4,213.9 408.5,212.3 411,210.8 413,212.2 415,213.6 417,214.2 419,216.4 421.5,218 423,218.3 425.3,220.1 428,222.5 431,225.6 434.6,229.6 437.8,232 441,236.2 444.6,240 447.5,242.4 450.4,244.4 453.5,247.8 457.2,251.6 460,253.8 462.9,256.5 466,259.6 469.7,262.8 472,263.4 474,265 475.4,264.2 477,265.6 478.5,265.4 480,266.6 482,266.4 485.3,268.2 488,270 490.7,272 493,273.4 495.1,274.4 496.5,274 497.8,273.3 499.5,273.9 501.4,273.8 502.8,271.5 504,268.8 505.8,267.2 507.6,265.8 508.6,262.5 509.4,258.7 510,252 510.6,244.5 511.3,236 512,228.5 513.3,224.5 514.7,221.4 515.6,217 516.5,212.5 517,210.8"/>
<rect x="400.3" y="284.3" width="122.6" height="3" fill="#d2d2d2"/>
<line x1="405.3" x2="405.3" y1="284.3" y2="286.6" stroke="#222" stroke-width="0.8"/>
<line x1="433.8" x2="433.8" y1="284.3" y2="286.6" stroke="#222" stroke-width="0.8"/>
<line x1="462.3" x2="462.3" y1="284.3" y2="286.6" stroke="#222" stroke-width="0.8"/>
<line x1="490.8" x2="490.8" y1="284.3" y2="286.6" stroke="#222" stroke-width="0.8"/>
<line x1="519.3" x2="519.3" y1="284.3" y2="286.6" stroke="#222" stroke-width="0.8"/>
<rect x="400.3" y="208.2" width="122.6" height="76.1" fill="none" stroke="#222" stroke-width="0.9"/>
<rect x="400.3" y="287.3" width="122.6" height="34.3" fill="none" stroke="#222" stroke-width="0.9"/>
<polyline fill="none" stroke="#111" stroke-width="1.5" stroke-linejoin="round" points="405.2,287.8 405.5,292.0 406.0,295.5 407.5,296.8 409.5,297.7 411.4,298.3 415.0,299.3 420.5,300.4 425.0,301.0 429.5,301.5 434.0,301.9 438.6,302.3 445.0,302.6 457.0,303.0 468.0,303.4 480.0,304.0 490.0,304.6 498.0,305.3 504.0,306.2 509.6,307.6 512.0,309.0 514.0,311.0 515.2,312.8 516.0,315.0 516.6,318.0 516.9,320.6"/>
<line x1="405.2" x2="405.2" y1="287.6" y2="302.8" stroke="#111" stroke-width="1.2"/>
<line x1="516.9" x2="516.9" y1="302.4" y2="320.8" stroke="#111" stroke-width="1.5"/>
<line x1="404" x2="519.5" y1="302.7" y2="302.7" stroke="#c4c4c4" stroke-width="1.5" stroke-dasharray="6.2 4.6"/>
<text x="397.2" y="214.96" font-size="5.2" text-anchor="end" fill="#5a5a5a" stroke="#5a5a5a" stroke-width="0.12" stroke-opacity="0.75">0.0</text>
<line x1="398.3" x2="400.3" y1="213.1" y2="213.1" stroke="#333" stroke-width="0.6"/>
<text x="397.2" y="240.76" font-size="5.2" text-anchor="end" fill="#5a5a5a" stroke="#5a5a5a" stroke-width="0.12" stroke-opacity="0.75">−0.2</text>
<line x1="398.3" x2="400.3" y1="238.9" y2="238.9" stroke="#333" stroke-width="0.6"/>
<text x="397.2" y="267.16" font-size="5.2" text-anchor="end" fill="#5a5a5a" stroke="#5a5a5a" stroke-width="0.12" stroke-opacity="0.75">−0.4</text>
<line x1="398.3" x2="400.3" y1="265.3" y2="265.3" stroke="#333" stroke-width="0.6"/>
<text x="397.4" y="293.8" font-size="5.6" text-anchor="end" fill="#5a5a5a" stroke="#5a5a5a" stroke-width="0.12" stroke-opacity="0.75">2</text>
<line x1="398.3" x2="400.3" y1="291.8" y2="291.8" stroke="#333" stroke-width="0.6"/>
<text x="397.4" y="304.6" font-size="5.6" text-anchor="end" fill="#5a5a5a" stroke="#5a5a5a" stroke-width="0.12" stroke-opacity="0.75">0</text>
<line x1="398.3" x2="400.3" y1="302.6" y2="302.6" stroke="#333" stroke-width="0.6"/>
<text x="397.4" y="315.1" font-size="5.6" text-anchor="end" fill="#5a5a5a" stroke="#5a5a5a" stroke-width="0.12" stroke-opacity="0.75">−2</text>
<line x1="398.3" x2="400.3" y1="313.1" y2="313.1" stroke="#333" stroke-width="0.6"/>
<text x="405.3" y="328.4" font-size="5.6" text-anchor="middle" fill="#555" stroke="#555" stroke-width="0.15" stroke-opacity="0.75">0</text>
<line x1="405.3" x2="405.3" y1="321.6" y2="323.4" stroke="#333" stroke-width="0.6"/>
<text x="433.8" y="328.4" font-size="5.6" text-anchor="middle" fill="#555" stroke="#555" stroke-width="0.15" stroke-opacity="0.75">5000</text>
<line x1="433.8" x2="433.8" y1="321.6" y2="323.4" stroke="#333" stroke-width="0.6"/>
<text x="462.3" y="328.4" font-size="5.6" text-anchor="middle" fill="#555" stroke="#555" stroke-width="0.15" stroke-opacity="0.75">10000</text>
<line x1="462.3" x2="462.3" y1="321.6" y2="323.4" stroke="#333" stroke-width="0.6"/>
<text x="490.8" y="328.4" font-size="5.6" text-anchor="middle" fill="#555" stroke="#555" stroke-width="0.15" stroke-opacity="0.75">15000</text>
<line x1="490.8" x2="490.8" y1="321.6" y2="323.4" stroke="#333" stroke-width="0.6"/>
<text x="519.3" y="328.4" font-size="5.6" text-anchor="middle" fill="#555" stroke="#555" stroke-width="0.15" stroke-opacity="0.75">20000</text>
<line x1="519.3" x2="519.3" y1="321.6" y2="323.4" stroke="#333" stroke-width="0.6"/>
<text x="462" y="335.08" font-size="5.8" text-anchor="middle" textLength="64.7" lengthAdjust="spacingAndGlyphs" fill="#222" stroke="#222" stroke-width="0.28" stroke-opacity="0.75">Rank in ordered dataset</text>
<text x="384.6" y="246.5" font-size="5.8" text-anchor="middle" transform="rotate(-90 384.6 246.5)" fill="#222" stroke="#222" stroke-width="0.28" stroke-opacity="0.75">Enrichment score</text>
<text x="384.6" y="304.5" font-size="5.8" text-anchor="middle" transform="rotate(-90 384.6 304.5)" fill="#222" stroke="#222" stroke-width="0.28" stroke-opacity="0.75">Rank</text>
<text x="22" y="371.3" font-size="11" fill="#111" stroke="#111" stroke-width="0.28" stroke-opacity="0.75">e</text>
<text x="45.1" y="383.16" font-size="6.3" font-weight="bold" textLength="73.3" lengthAdjust="spacingAndGlyphs" fill="#111" stroke="#111" stroke-width="0.22" stroke-opacity="0.75">E−MTAB−6134 Cohort</text>
<path d="M53.9 392.2H54.7V392.2H55.5V392.2H56.6V393.6H57.7V395.1H58.6V397.3H59.5V399.5H60.5V402.4H61.4V405.2H62.3V407.1H63.2V409.0H64.2V411.5H65.2V414.0H66.1V417.0H67.0V420.0H68.0V423.2H69.0V426.5H70.2V428.0H71.5V429.5H73.3V431.1H75.2V432.8H76.6V434.6H78.0V436.5H79.8V438.4H81.5V440.3H82.5V441.4H83.5V442.5H84.4V443.6H85.3V444.8H86.7V445.6H88.0V446.5H89.8V447.8H91.5V449.1H92.8V449.6H94.0V450.0H95.3V450.8H96.6V451.6H97.3V452.8H98.0V454.0H98.5V455.2H99.1V456.4H125.3V456.4H151.6V456.4" fill="none" stroke="#1c6fb6" stroke-width="3.1" stroke-linejoin="miter"/>
<path d="M51.4 392.6H52.3V394.8H53.3V397.0H54.2V399.9H55.2V402.7H56.1V406.4H57.0V410.0H58.0V413.9H58.9V417.7H59.8V420.4H60.8V423.0H61.8V425.4H62.7V427.8H63.6V430.4H64.5V433.0H65.5V435.4H66.4V437.8H67.7V440.1H69.0V442.5H70.2V444.6H71.5V446.6H72.8V448.3H74.0V450.0H75.2V451.4H76.5V452.8H78.0V453.9H79.5V455.0H81.2V455.9H82.8V456.8H84.7V457.6H86.5V458.5H88.4V459.2H90.3V459.9H92.2V460.6H94.0V461.4H95.9V462.0H97.8V462.6H100.4V463.2H103.0V463.8H105.4V464.4H107.8V465.0H110.4V465.7H113.0V466.4H115.5V466.9H117.9V467.4H130.4V467.5H142.9V467.6H142.9V470.6H142.9V473.6H148.7V473.6H154.5V473.6" fill="none" stroke="#b93a2b" stroke-width="3.1" stroke-linejoin="miter"/>
<rect x="45.2" y="388.5" width="115.9" height="96.0" fill="none" stroke="#111" stroke-width="1.5"/>
<text x="42.0" y="482.01" font-size="5.9" text-anchor="end" fill="#333" stroke="#333" stroke-width="0.28" stroke-opacity="0.75">0.00</text>
<line x1="42.6" x2="44.5" y1="479.9" y2="479.9" stroke="#222" stroke-width="0.8"/>
<text x="42.0" y="460.06" font-size="5.9" text-anchor="end" fill="#333" stroke="#333" stroke-width="0.28" stroke-opacity="0.75">0.25</text>
<line x1="42.6" x2="44.5" y1="457.9" y2="457.9" stroke="#222" stroke-width="0.8"/>
<text x="42.0" y="438.11" font-size="5.9" text-anchor="end" fill="#333" stroke="#333" stroke-width="0.28" stroke-opacity="0.75">0.50</text>
<line x1="42.6" x2="44.5" y1="436.0" y2="436.0" stroke="#222" stroke-width="0.8"/>
<text x="42.0" y="416.16" font-size="5.9" text-anchor="end" fill="#333" stroke="#333" stroke-width="0.28" stroke-opacity="0.75">0.75</text>
<line x1="42.6" x2="44.5" y1="414.0" y2="414.0" stroke="#222" stroke-width="0.8"/>
<text x="42.0" y="394.21" font-size="5.9" text-anchor="end" fill="#333" stroke="#333" stroke-width="0.28" stroke-opacity="0.75">1.00</text>
<line x1="42.6" x2="44.5" y1="392.1" y2="392.1" stroke="#222" stroke-width="0.8"/>
<text x="50.2" y="491.61" font-size="5.9" text-anchor="middle" fill="#333" stroke="#333" stroke-width="0.28" stroke-opacity="0.75">0</text>
<line x1="50.2" x2="50.2" y1="485.2" y2="487.1" stroke="#222" stroke-width="0.8"/>
<text x="85.8" y="491.61" font-size="5.9" text-anchor="middle" fill="#333" stroke="#333" stroke-width="0.28" stroke-opacity="0.75">50</text>
<line x1="85.8" x2="85.8" y1="485.2" y2="487.1" stroke="#222" stroke-width="0.8"/>
<text x="121.5" y="491.61" font-size="5.9" text-anchor="middle" fill="#333" stroke="#333" stroke-width="0.28" stroke-opacity="0.75">100</text>
<line x1="121.5" x2="121.5" y1="485.2" y2="487.1" stroke="#222" stroke-width="0.8"/>
<text x="157.1" y="491.61" font-size="5.9" text-anchor="middle" fill="#333" stroke="#333" stroke-width="0.28" stroke-opacity="0.75">150</text>
<line x1="157.1" x2="157.1" y1="485.2" y2="487.1" stroke="#222" stroke-width="0.8"/>
<text x="101.8" y="499.6" font-size="5.6" text-anchor="middle" textLength="19.7" lengthAdjust="spacingAndGlyphs" fill="#333" stroke="#333" stroke-width="0.28" stroke-opacity="0.75">Months</text>
<text x="28.2" y="440.3" font-size="5.6" text-anchor="middle" textLength="50.5" lengthAdjust="spacingAndGlyphs" transform="rotate(-90 28.2 440.3)" fill="#333" stroke="#333" stroke-width="0.28" stroke-opacity="0.75">Survival probability</text>
<text x="52.6" y="481.8" font-size="5.6" textLength="31.4" lengthAdjust="spacingAndGlyphs" fill="#222" stroke="#222" stroke-width="0.28" stroke-opacity="0.75">p = 0.00031</text>
<text x="118.4" y="404.33" font-size="5.4" textLength="22" lengthAdjust="spacingAndGlyphs" fill="#222" stroke="#222" stroke-width="0.28" stroke-opacity="0.75">Subtype</text>
<line x1="141.20000000000002" x2="149.4" y1="398.7" y2="398.7" stroke="#1c6fb6" stroke-width="3.1"/>
<line x1="141.20000000000002" x2="149.4" y1="407.5" y2="407.5" stroke="#b93a2b" stroke-width="3.1"/>
<text x="152.0" y="400.92" font-size="6.2" fill="#222" stroke="#222" stroke-width="0.28" stroke-opacity="0.75">1</text>
<text x="152.0" y="409.72" font-size="6.2" fill="#222" stroke="#222" stroke-width="0.28" stroke-opacity="0.75">2</text>
<text x="183" y="373" font-size="11" fill="#111" stroke="#111" stroke-width="0.28" stroke-opacity="0.75">f</text>
<text x="194.3" y="384.96" font-size="6.3" font-weight="bold" textLength="42.2" lengthAdjust="spacingAndGlyphs" fill="#111" stroke="#111" stroke-width="0.22" stroke-opacity="0.75">ICGC Cohort</text>
<rect x="193.1" y="390.6" width="37.5" height="6.3" fill="#1c6fb6"/>
<rect x="230.6" y="390.6" width="28.7" height="6.3" fill="#b93a2b"/>
<g shape-rendering="auto">
<rect x="193.10" y="399.40" width="2.46" height="22.57" fill="#d42c2d"/>
<rect x="195.31" y="399.40" width="2.46" height="22.57" fill="#aac9e9"/>
<rect x="197.51" y="399.40" width="2.46" height="22.57" fill="#fad8d2"/>
<rect x="199.72" y="399.40" width="2.46" height="22.57" fill="#d8e6f5"/>
<rect x="201.93" y="399.40" width="2.46" height="22.57" fill="#df342f"/>
<rect x="204.13" y="399.40" width="2.46" height="22.57" fill="#df342f"/>
<rect x="206.34" y="399.40" width="2.46" height="22.57" fill="#f5aa9c"/>
<rect x="208.55" y="399.40" width="2.46" height="22.57" fill="#ffffff"/>
<rect x="210.75" y="399.40" width="2.46" height="22.57" fill="#d8e6f5"/>
<rect x="212.96" y="399.40" width="2.46" height="22.57" fill="#497dc4"/>
<rect x="215.17" y="399.40" width="2.46" height="22.57" fill="#df342f"/>
<rect x="217.37" y="399.40" width="2.46" height="22.57" fill="#497dc4"/>
<rect x="219.58" y="399.40" width="2.46" height="22.57" fill="#ffffff"/>
<rect x="221.79" y="399.40" width="2.46" height="22.57" fill="#3f68b5"/>
<rect x="223.99" y="399.40" width="2.46" height="22.57" fill="#7ca6d8"/>
<rect x="226.20" y="399.40" width="2.46" height="22.57" fill="#aac9e9"/>
<rect x="228.41" y="399.40" width="2.46" height="22.57" fill="#fad8d2"/>
<rect x="230.61" y="399.40" width="2.46" height="22.57" fill="#df342f"/>
<rect x="232.82" y="399.40" width="2.46" height="22.57" fill="#eb7368"/>
<rect x="235.03" y="399.40" width="2.46" height="22.57" fill="#3f68b5"/>
<rect x="237.23" y="399.40" width="2.46" height="22.57" fill="#ffffff"/>
<rect x="239.44" y="399.40" width="2.46" height="22.57" fill="#f5aa9c"/>
<rect x="241.65" y="399.40" width="2.46" height="22.57" fill="#ffffff"/>
<rect x="243.85" y="399.40" width="2.46" height="22.57" fill="#df342f"/>
<rect x="246.06" y="399.40" width="2.46" height="22.57" fill="#df342f"/>
<rect x="248.27" y="399.40" width="2.46" height="22.57" fill="#f5aa9c"/>
<rect x="250.47" y="399.40" width="2.46" height="22.57" fill="#fad8d2"/>
<rect x="252.68" y="399.40" width="2.46" height="22.57" fill="#ffffff"/>
<rect x="254.89" y="399.40" width="2.46" height="22.57" fill="#7ca6d8"/>
<rect x="257.09" y="399.40" width="2.46" height="22.57" fill="#aac9e9"/>
<rect x="193.10" y="421.97" width="2.46" height="22.57" fill="#d42c2d"/>
<rect x="195.31" y="421.97" width="2.46" height="22.57" fill="#ffffff"/>
<rect x="197.51" y="421.97" width="2.46" height="22.57" fill="#ffffff"/>
<rect x="199.72" y="421.97" width="2.46" height="22.57" fill="#d42c2d"/>
<rect x="201.93" y="421.97" width="2.46" height="22.57" fill="#f5aa9c"/>
<rect x="204.13" y="421.97" width="2.46" height="22.57" fill="#eb7368"/>
<rect x="206.34" y="421.97" width="2.46" height="22.57" fill="#f5aa9c"/>
<rect x="208.55" y="421.97" width="2.46" height="22.57" fill="#fad8d2"/>
<rect x="210.75" y="421.97" width="2.46" height="22.57" fill="#f5aa9c"/>
<rect x="212.96" y="421.97" width="2.46" height="22.57" fill="#eb7368"/>
<rect x="215.17" y="421.97" width="2.46" height="22.57" fill="#eb7368"/>
<rect x="217.37" y="421.97" width="2.46" height="22.57" fill="#fad8d2"/>
<rect x="219.58" y="421.97" width="2.46" height="22.57" fill="#f5aa9c"/>
<rect x="221.79" y="421.97" width="2.46" height="22.57" fill="#eb7368"/>
<rect x="223.99" y="421.97" width="2.46" height="22.57" fill="#eb7368"/>
<rect x="226.20" y="421.97" width="2.46" height="22.57" fill="#df342f"/>
<rect x="228.41" y="421.97" width="2.46" height="22.57" fill="#ffffff"/>
<rect x="230.61" y="421.97" width="2.46" height="22.57" fill="#d8e6f5"/>
<rect x="232.82" y="421.97" width="2.46" height="22.57" fill="#aac9e9"/>
<rect x="235.03" y="421.97" width="2.46" height="22.57" fill="#d8e6f5"/>
<rect x="237.23" y="421.97" width="2.46" height="22.57" fill="#d8e6f5"/>
<rect x="239.44" y="421.97" width="2.46" height="22.57" fill="#aac9e9"/>
<rect x="241.65" y="421.97" width="2.46" height="22.57" fill="#aac9e9"/>
<rect x="243.85" y="421.97" width="2.46" height="22.57" fill="#7ca6d8"/>
<rect x="246.06" y="421.97" width="2.46" height="22.57" fill="#4069b6"/>
<rect x="248.27" y="421.97" width="2.46" height="22.57" fill="#3f68b5"/>
<rect x="250.47" y="421.97" width="2.46" height="22.57" fill="#3f68b5"/>
<rect x="252.68" y="421.97" width="2.46" height="22.57" fill="#d8e6f5"/>
<rect x="254.89" y="421.97" width="2.46" height="22.57" fill="#aac9e9"/>
<rect x="257.09" y="421.97" width="2.46" height="22.57" fill="#7ca6d8"/>
<rect x="193.10" y="444.55" width="2.46" height="22.57" fill="#fad8d2"/>
<rect x="195.31" y="444.55" width="2.46" height="22.57" fill="#eb7368"/>
<rect x="197.51" y="444.55" width="2.46" height="22.57" fill="#fad8d2"/>
<rect x="199.72" y="444.55" width="2.46" height="22.57" fill="#f5aa9c"/>
<rect x="201.93" y="444.55" width="2.46" height="22.57" fill="#df342f"/>
<rect x="204.13" y="444.55" width="2.46" height="22.57" fill="#fad8d2"/>
<rect x="206.34" y="444.55" width="2.46" height="22.57" fill="#df342f"/>
<rect x="208.55" y="444.55" width="2.46" height="22.57" fill="#aac9e9"/>
<rect x="210.75" y="444.55" width="2.46" height="22.57" fill="#eb7368"/>
<rect x="212.96" y="444.55" width="2.46" height="22.57" fill="#df342f"/>
<rect x="215.17" y="444.55" width="2.46" height="22.57" fill="#d42c2d"/>
<rect x="217.37" y="444.55" width="2.46" height="22.57" fill="#ffffff"/>
<rect x="219.58" y="444.55" width="2.46" height="22.57" fill="#eb7368"/>
<rect x="221.79" y="444.55" width="2.46" height="22.57" fill="#ffffff"/>
<rect x="223.99" y="444.55" width="2.46" height="22.57" fill="#fad8d2"/>
<rect x="226.20" y="444.55" width="2.46" height="22.57" fill="#f5aa9c"/>
<rect x="228.41" y="444.55" width="2.46" height="22.57" fill="#f5aa9c"/>
<rect x="230.61" y="444.55" width="2.46" height="22.57" fill="#3f68b5"/>
<rect x="232.82" y="444.55" width="2.46" height="22.57" fill="#eb7368"/>
<rect x="235.03" y="444.55" width="2.46" height="22.57" fill="#3f68b5"/>
<rect x="237.23" y="444.55" width="2.46" height="22.57" fill="#f5aa9c"/>
<rect x="239.44" y="444.55" width="2.46" height="22.57" fill="#aac9e9"/>
<rect x="241.65" y="444.55" width="2.46" height="22.57" fill="#d8e6f5"/>
<rect x="243.85" y="444.55" width="2.46" height="22.57" fill="#aac9e9"/>
<rect x="246.06" y="444.55" width="2.46" height="22.57" fill="#fad8d2"/>
<rect x="248.27" y="444.55" width="2.46" height="22.57" fill="#3f68b5"/>
<rect x="250.47" y="444.55" width="2.46" height="22.57" fill="#4069b6"/>
<rect x="252.68" y="444.55" width="2.46" height="22.57" fill="#fad8d2"/>
<rect x="254.89" y="444.55" width="2.46" height="22.57" fill="#497dc4"/>
<rect x="257.09" y="444.55" width="2.46" height="22.57" fill="#aac9e9"/>
<rect x="193.10" y="467.12" width="2.46" height="22.57" fill="#d42c2d"/>
<rect x="195.31" y="467.12" width="2.46" height="22.57" fill="#fad8d2"/>
<rect x="197.51" y="467.12" width="2.46" height="22.57" fill="#aac9e9"/>
<rect x="199.72" y="467.12" width="2.46" height="22.57" fill="#d42c2d"/>
<rect x="201.93" y="467.12" width="2.46" height="22.57" fill="#df342f"/>
<rect x="204.13" y="467.12" width="2.46" height="22.57" fill="#eb7368"/>
<rect x="206.34" y="467.12" width="2.46" height="22.57" fill="#f5aa9c"/>
<rect x="208.55" y="467.12" width="2.46" height="22.57" fill="#fad8d2"/>
<rect x="210.75" y="467.12" width="2.46" height="22.57" fill="#ffffff"/>
<rect x="212.96" y="467.12" width="2.46" height="22.57" fill="#aac9e9"/>
<rect x="215.17" y="467.12" width="2.46" height="22.57" fill="#d42c2d"/>
<rect x="217.37" y="467.12" width="2.46" height="22.57" fill="#fad8d2"/>
<rect x="219.58" y="467.12" width="2.46" height="22.57" fill="#f5aa9c"/>
<rect x="221.79" y="467.12" width="2.46" height="22.57" fill="#f5aa9c"/>
<rect x="223.99" y="467.12" width="2.46" height="22.57" fill="#f5aa9c"/>
<rect x="226.20" y="467.12" width="2.46" height="22.57" fill="#fad8d2"/>
<rect x="228.41" y="467.12" width="2.46" height="22.57" fill="#df342f"/>
<rect x="230.61" y="467.12" width="2.46" height="22.57" fill="#d8e6f5"/>
<rect x="232.82" y="467.12" width="2.46" height="22.57" fill="#aac9e9"/>
<rect x="235.03" y="467.12" width="2.46" height="22.57" fill="#7ca6d8"/>
<rect x="237.23" y="467.12" width="2.46" height="22.57" fill="#7ca6d8"/>
<rect x="239.44" y="467.12" width="2.46" height="22.57" fill="#aac9e9"/>
<rect x="241.65" y="467.12" width="2.46" height="22.57" fill="#d8e6f5"/>
<rect x="243.85" y="467.12" width="2.46" height="22.57" fill="#aac9e9"/>
<rect x="246.06" y="467.12" width="2.46" height="22.57" fill="#f5aa9c"/>
<rect x="248.27" y="467.12" width="2.46" height="22.57" fill="#eb7368"/>
<rect x="250.47" y="467.12" width="2.46" height="22.57" fill="#3f68b5"/>
<rect x="252.68" y="467.12" width="2.46" height="22.57" fill="#fad8d2"/>
<rect x="254.89" y="467.12" width="2.46" height="22.57" fill="#3f68b5"/>
<rect x="257.09" y="467.12" width="2.46" height="22.57" fill="#4069b6"/>
</g>
<text x="261.6" y="395.79" font-size="6.4" font-weight="bold" textLength="27.4" lengthAdjust="spacingAndGlyphs" fill="#111" stroke="#111" stroke-width="0.22" stroke-opacity="0.75">Subtype</text>
<text x="261.6" y="411.87" font-size="6.9" textLength="43.3" lengthAdjust="spacingAndGlyphs" fill="#222" stroke="#222" stroke-width="0.28" stroke-opacity="0.75">GLYCOLYSIS</text>
<text x="261.6" y="434.47" font-size="6.9" textLength="84.5" lengthAdjust="spacingAndGlyphs" fill="#222" stroke="#222" stroke-width="0.28" stroke-opacity="0.75">BILE_ACID_METABOLISM</text>
<text x="261.6" y="457.27" font-size="6.9" textLength="106.6" lengthAdjust="spacingAndGlyphs" fill="#222" stroke="#222" stroke-width="0.28" stroke-opacity="0.75">CHOLESTEROL_HOMEOSTASIS</text>
<text x="261.6" y="479.87" font-size="6.9" textLength="92.7" lengthAdjust="spacingAndGlyphs" fill="#222" stroke="#222" stroke-width="0.28" stroke-opacity="0.75">XENOBIOTIC_METABOLISM</text>
<text x="329" y="380.43" font-size="5.4" font-weight="bold" textLength="23.6" lengthAdjust="spacingAndGlyphs" fill="#111" stroke="#111" stroke-width="0.22" stroke-opacity="0.75">Subtype</text>
<rect x="329" y="384.3" width="10.8" height="11" fill="#1c6fb6"/><rect x="329" y="395.3" width="10.8" height="10.9" fill="#b93a2b"/>
<text x="342.4" y="392.3" font-size="5.6" textLength="24.9" lengthAdjust="spacingAndGlyphs" fill="#333" stroke="#333" stroke-width="0.28" stroke-opacity="0.75">Subtype1</text>
<text x="342.4" y="403.1" font-size="5.6" textLength="24.9" lengthAdjust="spacingAndGlyphs" fill="#333" stroke="#333" stroke-width="0.28" stroke-opacity="0.75">Subtype3</text>
<rect x="369.4" y="383.5" width="6.9" height="105.7" fill="url(#gf)"/>
<text x="379.6" y="397.95" font-size="6.0" fill="#333" stroke="#333" stroke-width="0.28" stroke-opacity="0.75">2</text>
<text x="379.6" y="418.05" font-size="6.0" fill="#333" stroke="#333" stroke-width="0.28" stroke-opacity="0.75">1</text>
<text x="379.6" y="438.35" font-size="6.0" fill="#333" stroke="#333" stroke-width="0.28" stroke-opacity="0.75">0</text>
<text x="378.4" y="458.45" font-size="6.0" fill="#333" stroke="#333" stroke-width="0.28" stroke-opacity="0.75">−1</text>
<text x="378.4" y="478.45" font-size="6.0" fill="#333" stroke="#333" stroke-width="0.28" stroke-opacity="0.75">−2</text>
<text x="393.8" y="375.6" font-size="11" fill="#111" stroke="#111" stroke-width="0.28" stroke-opacity="0.75">g</text>
<text x="420.4" y="378.26" font-size="6.3" font-weight="bold" textLength="43.2" lengthAdjust="spacingAndGlyphs" fill="#111" stroke="#111" stroke-width="0.22" stroke-opacity="0.75">ICGC Cohort</text>
<path d="M425.8 385.6H425.8V392.9H436.1V392.9H436.1V398.3H438.3V398.3H438.3V409.3H450.7V409.3H450.7V416.0H494.5V416.0H494.5V445.0H538.0V445.0H538.0V476.5" fill="none" stroke="#1c6fb6" stroke-width="3.1" stroke-linejoin="miter"/>
<path d="M426.8 385.2H426.8V393.6H440.4V393.6H440.4V401.3H442.5V401.3H442.5V409.7H444.6V409.7H444.6V418.2H446.3V418.2H446.3V426.6H448.4V426.6H448.4V435.1H450.5V435.1H450.5V443.5H452.4V443.5H452.4V451.0H453.6V451.0H453.6V459.6H458.3V459.6H458.3V468.0H476.4V468.0" fill="none" stroke="#b93a2b" stroke-width="3.1" stroke-linejoin="miter"/>
<rect x="420.2" y="383.6" width="118.7" height="97.4" fill="none" stroke="#111" stroke-width="1.5"/>
<text x="417.0" y="478.61" font-size="5.9" text-anchor="end" fill="#333" stroke="#333" stroke-width="0.28" stroke-opacity="0.75">0.00</text>
<line x1="417.59999999999997" x2="419.5" y1="476.5" y2="476.5" stroke="#222" stroke-width="0.8"/>
<text x="417.0" y="456.26" font-size="5.9" text-anchor="end" fill="#333" stroke="#333" stroke-width="0.28" stroke-opacity="0.75">0.25</text>
<line x1="417.59999999999997" x2="419.5" y1="454.1" y2="454.1" stroke="#222" stroke-width="0.8"/>
<text x="417.0" y="433.91" font-size="5.9" text-anchor="end" fill="#333" stroke="#333" stroke-width="0.28" stroke-opacity="0.75">0.50</text>
<line x1="417.59999999999997" x2="419.5" y1="431.8" y2="431.8" stroke="#222" stroke-width="0.8"/>
<text x="417.0" y="411.56" font-size="5.9" text-anchor="end" fill="#333" stroke="#333" stroke-width="0.28" stroke-opacity="0.75">0.75</text>
<line x1="417.59999999999997" x2="419.5" y1="409.4" y2="409.4" stroke="#222" stroke-width="0.8"/>
<text x="417.0" y="389.21" font-size="5.9" text-anchor="end" fill="#333" stroke="#333" stroke-width="0.28" stroke-opacity="0.75">1.00</text>
<line x1="417.59999999999997" x2="419.5" y1="387.1" y2="387.1" stroke="#222" stroke-width="0.8"/>
<text x="426.1" y="488.01" font-size="5.9" text-anchor="middle" fill="#333" stroke="#333" stroke-width="0.28" stroke-opacity="0.75">0</text>
<line x1="426.1" x2="426.1" y1="481.7" y2="483.6" stroke="#222" stroke-width="0.8"/>
<text x="462.1" y="488.01" font-size="5.9" text-anchor="middle" fill="#333" stroke="#333" stroke-width="0.28" stroke-opacity="0.75">20</text>
<line x1="462.1" x2="462.1" y1="481.7" y2="483.6" stroke="#222" stroke-width="0.8"/>
<text x="498.1" y="488.01" font-size="5.9" text-anchor="middle" fill="#333" stroke="#333" stroke-width="0.28" stroke-opacity="0.75">40</text>
<line x1="498.1" x2="498.1" y1="481.7" y2="483.6" stroke="#222" stroke-width="0.8"/>
<text x="534.1" y="488.01" font-size="5.9" text-anchor="middle" fill="#333" stroke="#333" stroke-width="0.28" stroke-opacity="0.75">60</text>
<line x1="534.1" x2="534.1" y1="481.7" y2="483.6" stroke="#222" stroke-width="0.8"/>
<text x="478" y="496.0" font-size="5.6" text-anchor="middle" textLength="19.7" lengthAdjust="spacingAndGlyphs" fill="#333" stroke="#333" stroke-width="0.28" stroke-opacity="0.75">Months</text>
<text x="401.8" y="436" font-size="5.6" text-anchor="middle" textLength="50.5" lengthAdjust="spacingAndGlyphs" transform="rotate(-90 401.8 436)" fill="#333" stroke="#333" stroke-width="0.28" stroke-opacity="0.75">Survival probability</text>
<text x="427.9" y="476.5" font-size="5.6" textLength="24.6" lengthAdjust="spacingAndGlyphs" fill="#222" stroke="#222" stroke-width="0.28" stroke-opacity="0.75">p = 0.017</text>
<text x="487" y="399.73" font-size="5.4" textLength="22" lengthAdjust="spacingAndGlyphs" fill="#222" stroke="#222" stroke-width="0.28" stroke-opacity="0.75">Subtype</text>
<line x1="509.8" x2="518" y1="394.1" y2="394.1" stroke="#1c6fb6" stroke-width="3.1"/>
<line x1="509.8" x2="518" y1="402.90000000000003" y2="402.90000000000003" stroke="#b93a2b" stroke-width="3.1"/>
<text x="520.6" y="396.32" font-size="6.2" fill="#222" stroke="#222" stroke-width="0.28" stroke-opacity="0.75">1</text>
<text x="520.6" y="405.12" font-size="6.2" fill="#222" stroke="#222" stroke-width="0.28" stroke-opacity="0.75">3</text>
</svg></body></html>
